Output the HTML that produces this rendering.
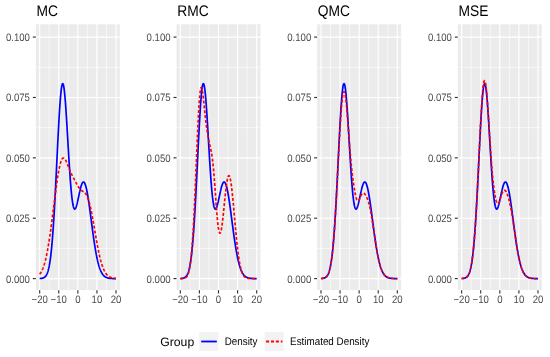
<!DOCTYPE html><html><head><meta charset="utf-8"><style>html,body{margin:0;padding:0;background:#fff;}svg{display:block;will-change:transform;}text{font-family:"Liberation Sans",sans-serif;text-rendering:geometricPrecision;}</style></head><body>
<svg width="550" height="357" viewBox="0 0 550 357">
<g>
<rect width="550" height="357" fill="#fff"/>
<rect x="35.85" y="24.3" width="84.0" height="265.70" fill="#EBEBEB"/>
<line x1="35.85" x2="119.85" y1="248.41" y2="248.41" stroke="#fff" stroke-width="0.6"/>
<line x1="35.85" x2="119.85" y1="188.04" y2="188.04" stroke="#fff" stroke-width="0.6"/>
<line x1="35.85" x2="119.85" y1="127.66" y2="127.66" stroke="#fff" stroke-width="0.6"/>
<line x1="35.85" x2="119.85" y1="67.29" y2="67.29" stroke="#fff" stroke-width="0.6"/>
<line x1="49.21" x2="49.21" y1="24.3" y2="290.0" stroke="#fff" stroke-width="0.6"/>
<line x1="68.30" x2="68.30" y1="24.3" y2="290.0" stroke="#fff" stroke-width="0.6"/>
<line x1="87.40" x2="87.40" y1="24.3" y2="290.0" stroke="#fff" stroke-width="0.6"/>
<line x1="106.49" x2="106.49" y1="24.3" y2="290.0" stroke="#fff" stroke-width="0.6"/>
<line x1="35.85" x2="119.85" y1="278.60" y2="278.60" stroke="#fff" stroke-width="1.15"/>
<line x1="35.85" x2="119.85" y1="218.23" y2="218.23" stroke="#fff" stroke-width="1.15"/>
<line x1="35.85" x2="119.85" y1="157.85" y2="157.85" stroke="#fff" stroke-width="1.15"/>
<line x1="35.85" x2="119.85" y1="97.48" y2="97.48" stroke="#fff" stroke-width="1.15"/>
<line x1="35.85" x2="119.85" y1="37.10" y2="37.10" stroke="#fff" stroke-width="1.15"/>
<line x1="39.67" x2="39.67" y1="24.3" y2="290.0" stroke="#fff" stroke-width="1.15"/>
<line x1="58.76" x2="58.76" y1="24.3" y2="290.0" stroke="#fff" stroke-width="1.15"/>
<line x1="77.85" x2="77.85" y1="24.3" y2="290.0" stroke="#fff" stroke-width="1.15"/>
<line x1="96.94" x2="96.94" y1="24.3" y2="290.0" stroke="#fff" stroke-width="1.15"/>
<line x1="116.03" x2="116.03" y1="24.3" y2="290.0" stroke="#fff" stroke-width="1.15"/>
<path d="M39.67,278.54 L39.76,278.53 L39.86,278.53 L39.95,278.52 L40.05,278.52 L40.15,278.51 L40.24,278.50 L40.34,278.50 L40.43,278.49 L40.53,278.48 L40.62,278.48 L40.72,278.47 L40.81,278.46 L40.91,278.45 L41.00,278.44 L41.10,278.43 L41.20,278.42 L41.29,278.41 L41.39,278.39 L41.48,278.38 L41.58,278.37 L41.67,278.35 L41.77,278.34 L41.86,278.32 L41.96,278.30 L42.05,278.29 L42.15,278.27 L42.25,278.25 L42.34,278.23 L42.44,278.20 L42.53,278.18 L42.63,278.15 L42.72,278.13 L42.82,278.10 L42.91,278.07 L43.01,278.04 L43.10,278.00 L43.20,277.97 L43.30,277.93 L43.39,277.90 L43.49,277.85 L43.58,277.81 L43.68,277.77 L43.77,277.72 L43.87,277.67 L43.96,277.62 L44.06,277.57 L44.15,277.51 L44.25,277.45 L44.35,277.39 L44.44,277.32 L44.54,277.25 L44.63,277.18 L44.73,277.10 L44.82,277.02 L44.92,276.94 L45.01,276.85 L45.11,276.76 L45.20,276.66 L45.30,276.56 L45.40,276.46 L45.49,276.35 L45.59,276.24 L45.68,276.12 L45.78,275.99 L45.87,275.86 L45.97,275.72 L46.06,275.58 L46.16,275.43 L46.25,275.28 L46.35,275.12 L46.45,274.95 L46.54,274.78 L46.64,274.59 L46.73,274.40 L46.83,274.21 L46.92,274.00 L47.02,273.79 L47.11,273.57 L47.21,273.33 L47.30,273.09 L47.40,272.85 L47.50,272.59 L47.59,272.32 L47.69,272.04 L47.78,271.75 L47.88,271.45 L47.97,271.14 L48.07,270.81 L48.16,270.48 L48.26,270.13 L48.35,269.77 L48.45,269.40 L48.55,269.02 L48.64,268.62 L48.74,268.21 L48.83,267.78 L48.93,267.34 L49.02,266.89 L49.12,266.42 L49.21,265.93 L49.31,265.43 L49.40,264.91 L49.50,264.38 L49.60,263.83 L49.69,263.26 L49.79,262.68 L49.88,262.08 L49.98,261.46 L50.07,260.82 L50.17,260.17 L50.26,259.49 L50.36,258.80 L50.45,258.08 L50.55,257.35 L50.65,256.59 L50.74,255.82 L50.84,255.02 L50.93,254.21 L51.03,253.37 L51.12,252.51 L51.22,251.63 L51.31,250.73 L51.41,249.80 L51.50,248.85 L51.60,247.88 L51.70,246.89 L51.79,245.88 L51.89,244.84 L51.98,243.77 L52.08,242.69 L52.17,241.58 L52.27,240.45 L52.36,239.29 L52.46,238.11 L52.55,236.90 L52.65,235.67 L52.75,234.42 L52.84,233.15 L52.94,231.84 L53.03,230.52 L53.13,229.17 L53.22,227.80 L53.32,226.40 L53.41,224.99 L53.51,223.54 L53.60,222.08 L53.70,220.59 L53.80,219.08 L53.89,217.55 L53.99,215.99 L54.08,214.41 L54.18,212.81 L54.27,211.19 L54.37,209.55 L54.46,207.89 L54.56,206.21 L54.65,204.51 L54.75,202.79 L54.85,201.05 L54.94,199.30 L55.04,197.53 L55.13,195.74 L55.23,193.93 L55.32,192.11 L55.42,190.27 L55.51,188.42 L55.61,186.56 L55.70,184.68 L55.80,182.80 L55.90,180.90 L55.99,178.99 L56.09,177.07 L56.18,175.15 L56.28,173.22 L56.37,171.28 L56.47,169.33 L56.56,167.38 L56.66,165.43 L56.75,163.47 L56.85,161.52 L56.95,159.56 L57.04,157.60 L57.14,155.65 L57.23,153.70 L57.33,151.75 L57.42,149.81 L57.52,147.87 L57.61,145.94 L57.71,144.02 L57.80,142.11 L57.90,140.21 L58.00,138.33 L58.09,136.45 L58.19,134.59 L58.28,132.75 L58.38,130.93 L58.47,129.12 L58.57,127.33 L58.66,125.56 L58.76,123.82 L58.85,122.09 L58.95,120.40 L59.05,118.72 L59.14,117.08 L59.24,115.46 L59.33,113.87 L59.43,112.31 L59.52,110.78 L59.62,109.29 L59.71,107.82 L59.81,106.39 L59.90,105.00 L60.00,103.65 L60.10,102.33 L60.19,101.05 L60.29,99.81 L60.38,98.60 L60.48,97.45 L60.57,96.33 L60.67,95.25 L60.76,94.22 L60.86,93.24 L60.95,92.30 L61.05,91.40 L61.15,90.55 L61.24,89.75 L61.34,88.99 L61.43,88.29 L61.53,87.63 L61.62,87.02 L61.72,86.46 L61.81,85.96 L61.91,85.50 L62.00,85.09 L62.10,84.73 L62.20,84.43 L62.29,84.17 L62.39,83.97 L62.48,83.82 L62.58,83.71 L62.67,83.66 L62.77,83.67 L62.86,83.72 L62.96,83.82 L63.05,83.98 L63.15,84.18 L63.25,84.43 L63.34,84.74 L63.44,85.09 L63.53,85.50 L63.63,85.95 L63.72,86.45 L63.82,86.99 L63.91,87.59 L64.01,88.23 L64.10,88.91 L64.20,89.64 L64.30,90.41 L64.39,91.23 L64.49,92.09 L64.58,92.99 L64.68,93.93 L64.77,94.91 L64.87,95.93 L64.96,96.99 L65.06,98.09 L65.15,99.22 L65.25,100.38 L65.35,101.58 L65.44,102.81 L65.54,104.07 L65.63,105.37 L65.73,106.69 L65.82,108.04 L65.92,109.41 L66.01,110.81 L66.11,112.24 L66.20,113.68 L66.30,115.15 L66.40,116.64 L66.49,118.15 L66.59,119.68 L66.68,121.22 L66.78,122.77 L66.87,124.35 L66.97,125.93 L67.06,127.52 L67.16,129.13 L67.25,130.74 L67.35,132.36 L67.45,133.99 L67.54,135.62 L67.64,137.25 L67.73,138.89 L67.83,140.53 L67.92,142.17 L68.02,143.80 L68.11,145.43 L68.21,147.06 L68.30,148.69 L68.40,150.31 L68.50,151.92 L68.59,153.52 L68.69,155.12 L68.78,156.70 L68.88,158.27 L68.97,159.83 L69.07,161.38 L69.16,162.91 L69.26,164.42 L69.35,165.92 L69.45,167.40 L69.55,168.87 L69.64,170.31 L69.74,171.74 L69.83,173.14 L69.93,174.53 L70.02,175.89 L70.12,177.23 L70.21,178.55 L70.31,179.84 L70.40,181.11 L70.50,182.35 L70.60,183.57 L70.69,184.76 L70.79,185.93 L70.88,187.06 L70.98,188.18 L71.07,189.26 L71.17,190.31 L71.26,191.34 L71.36,192.34 L71.45,193.31 L71.55,194.25 L71.65,195.16 L71.74,196.04 L71.84,196.90 L71.93,197.72 L72.03,198.51 L72.12,199.27 L72.22,200.01 L72.31,200.71 L72.41,201.38 L72.50,202.03 L72.60,202.64 L72.70,203.23 L72.79,203.78 L72.89,204.31 L72.98,204.80 L73.08,205.27 L73.17,205.71 L73.27,206.12 L73.36,206.50 L73.46,206.86 L73.55,207.18 L73.65,207.48 L73.75,207.76 L73.84,208.00 L73.94,208.22 L74.03,208.41 L74.13,208.58 L74.22,208.72 L74.32,208.84 L74.41,208.93 L74.51,209.00 L74.60,209.05 L74.70,209.07 L74.80,209.07 L74.89,209.05 L74.99,209.00 L75.08,208.94 L75.18,208.85 L75.27,208.75 L75.37,208.62 L75.46,208.48 L75.56,208.32 L75.65,208.14 L75.75,207.94 L75.85,207.73 L75.94,207.50 L76.04,207.25 L76.13,206.99 L76.23,206.72 L76.32,206.43 L76.42,206.13 L76.51,205.81 L76.61,205.48 L76.70,205.14 L76.80,204.79 L76.90,204.43 L76.99,204.06 L77.09,203.68 L77.18,203.29 L77.28,202.90 L77.37,202.49 L77.47,202.08 L77.56,201.66 L77.66,201.24 L77.75,200.81 L77.85,200.37 L77.95,199.93 L78.04,199.49 L78.14,199.04 L78.23,198.59 L78.33,198.14 L78.42,197.69 L78.52,197.23 L78.61,196.78 L78.71,196.32 L78.80,195.87 L78.90,195.41 L79.00,194.96 L79.09,194.51 L79.19,194.06 L79.28,193.61 L79.38,193.17 L79.47,192.73 L79.57,192.29 L79.66,191.86 L79.76,191.44 L79.85,191.01 L79.95,190.60 L80.05,190.19 L80.14,189.78 L80.24,189.39 L80.33,189.00 L80.43,188.62 L80.52,188.24 L80.62,187.87 L80.71,187.52 L80.81,187.17 L80.90,186.83 L81.00,186.50 L81.10,186.18 L81.19,185.87 L81.29,185.57 L81.38,185.28 L81.48,185.00 L81.57,184.73 L81.67,184.47 L81.76,184.23 L81.86,184.00 L81.95,183.78 L82.05,183.57 L82.15,183.37 L82.24,183.19 L82.34,183.02 L82.43,182.86 L82.53,182.72 L82.62,182.58 L82.72,182.47 L82.81,182.36 L82.91,182.27 L83.00,182.19 L83.10,182.13 L83.20,182.08 L83.29,182.04 L83.39,182.02 L83.48,182.02 L83.58,182.02 L83.67,182.04 L83.77,182.08 L83.86,182.13 L83.96,182.19 L84.05,182.27 L84.15,182.37 L84.25,182.47 L84.34,182.59 L84.44,182.73 L84.53,182.88 L84.63,183.05 L84.72,183.22 L84.82,183.42 L84.91,183.62 L85.01,183.84 L85.10,184.08 L85.20,184.33 L85.30,184.59 L85.39,184.87 L85.49,185.16 L85.58,185.46 L85.68,185.77 L85.77,186.10 L85.87,186.45 L85.96,186.80 L86.06,187.17 L86.15,187.55 L86.25,187.94 L86.35,188.35 L86.44,188.76 L86.54,189.19 L86.63,189.63 L86.73,190.09 L86.82,190.55 L86.92,191.03 L87.01,191.51 L87.11,192.01 L87.20,192.52 L87.30,193.03 L87.40,193.56 L87.49,194.10 L87.59,194.64 L87.68,195.20 L87.78,195.77 L87.87,196.34 L87.97,196.93 L88.06,197.52 L88.16,198.12 L88.25,198.73 L88.35,199.34 L88.45,199.96 L88.54,200.60 L88.64,201.23 L88.73,201.88 L88.83,202.53 L88.92,203.19 L89.02,203.85 L89.11,204.52 L89.21,205.19 L89.30,205.87 L89.40,206.56 L89.50,207.25 L89.59,207.94 L89.69,208.64 L89.78,209.34 L89.88,210.04 L89.97,210.75 L90.07,211.46 L90.16,212.18 L90.26,212.90 L90.35,213.62 L90.45,214.34 L90.55,215.06 L90.64,215.79 L90.74,216.52 L90.83,217.24 L90.93,217.97 L91.02,218.70 L91.12,219.43 L91.21,220.16 L91.31,220.89 L91.40,221.62 L91.50,222.35 L91.60,223.08 L91.69,223.81 L91.79,224.54 L91.88,225.26 L91.98,225.99 L92.07,226.71 L92.17,227.43 L92.26,228.15 L92.36,228.87 L92.45,229.58 L92.55,230.29 L92.65,231.00 L92.74,231.70 L92.84,232.41 L92.93,233.10 L93.03,233.80 L93.12,234.49 L93.22,235.18 L93.31,235.86 L93.41,236.54 L93.50,237.21 L93.60,237.88 L93.70,238.55 L93.79,239.21 L93.89,239.87 L93.98,240.52 L94.08,241.16 L94.17,241.81 L94.27,242.44 L94.36,243.07 L94.46,243.70 L94.55,244.31 L94.65,244.93 L94.75,245.53 L94.84,246.14 L94.94,246.73 L95.03,247.32 L95.13,247.90 L95.22,248.48 L95.32,249.05 L95.41,249.62 L95.51,250.18 L95.60,250.73 L95.70,251.27 L95.80,251.81 L95.89,252.35 L95.99,252.87 L96.08,253.39 L96.18,253.90 L96.27,254.41 L96.37,254.91 L96.46,255.40 L96.56,255.89 L96.65,256.37 L96.75,256.84 L96.85,257.30 L96.94,257.76 L97.04,258.22 L97.13,258.66 L97.23,259.10 L97.32,259.53 L97.42,259.96 L97.51,260.38 L97.61,260.79 L97.70,261.20 L97.80,261.60 L97.90,261.99 L97.99,262.37 L98.09,262.75 L98.18,263.13 L98.28,263.49 L98.37,263.85 L98.47,264.21 L98.56,264.56 L98.66,264.90 L98.75,265.23 L98.85,265.56 L98.95,265.88 L99.04,266.20 L99.14,266.51 L99.23,266.82 L99.33,267.12 L99.42,267.41 L99.52,267.70 L99.61,267.98 L99.71,268.25 L99.80,268.52 L99.90,268.79 L100.00,269.05 L100.09,269.30 L100.19,269.55 L100.28,269.79 L100.38,270.03 L100.47,270.27 L100.57,270.49 L100.66,270.72 L100.76,270.93 L100.85,271.15 L100.95,271.36 L101.05,271.56 L101.14,271.76 L101.24,271.95 L101.33,272.14 L101.43,272.33 L101.52,272.51 L101.62,272.69 L101.71,272.86 L101.81,273.03 L101.90,273.19 L102.00,273.35 L102.10,273.51 L102.19,273.66 L102.29,273.81 L102.38,273.95 L102.48,274.10 L102.57,274.23 L102.67,274.37 L102.76,274.50 L102.86,274.62 L102.95,274.75 L103.05,274.87 L103.15,274.99 L103.24,275.10 L103.34,275.21 L103.43,275.32 L103.53,275.42 L103.62,275.53 L103.72,275.63 L103.81,275.72 L103.91,275.82 L104.00,275.91 L104.10,276.00 L104.20,276.08 L104.29,276.17 L104.39,276.25 L104.48,276.33 L104.58,276.40 L104.67,276.48 L104.77,276.55 L104.86,276.62 L104.96,276.69 L105.05,276.75 L105.15,276.82 L105.25,276.88 L105.34,276.94 L105.44,277.00 L105.53,277.05 L105.63,277.11 L105.72,277.16 L105.82,277.21 L105.91,277.26 L106.01,277.31 L106.10,277.36 L106.20,277.40 L106.30,277.45 L106.39,277.49 L106.49,277.53 L106.58,277.57 L106.68,277.61 L106.77,277.64 L106.87,277.68 L106.96,277.71 L107.06,277.75 L107.15,277.78 L107.25,277.81 L107.35,277.84 L107.44,277.87 L107.54,277.90 L107.63,277.93 L107.73,277.95 L107.82,277.98 L107.92,278.00 L108.01,278.02 L108.11,278.05 L108.20,278.07 L108.30,278.09 L108.40,278.11 L108.49,278.13 L108.59,278.15 L108.68,278.17 L108.78,278.18 L108.87,278.20 L108.97,278.22 L109.06,278.23 L109.16,278.25 L109.25,278.26 L109.35,278.28 L109.45,278.29 L109.54,278.30 L109.64,278.31 L109.73,278.33 L109.83,278.34 L109.92,278.35 L110.02,278.36 L110.11,278.37 L110.21,278.38 L110.30,278.39 L110.40,278.40 L110.50,278.41 L110.59,278.42 L110.69,278.42 L110.78,278.43 L110.88,278.44 L110.97,278.45 L111.07,278.45 L111.16,278.46 L111.26,278.46 L111.35,278.47 L111.45,278.48 L111.55,278.48 L111.64,278.49 L111.74,278.49 L111.83,278.50 L111.93,278.50 L112.02,278.51 L112.12,278.51 L112.21,278.51 L112.31,278.52 L112.40,278.52 L112.50,278.53 L112.60,278.53 L112.69,278.53 L112.79,278.54 L112.88,278.54 L112.98,278.54 L113.07,278.54 L113.17,278.55 L113.26,278.55 L113.36,278.55 L113.45,278.55 L113.55,278.56 L113.65,278.56 L113.74,278.56 L113.84,278.56 L113.93,278.56 L114.03,278.57 L114.12,278.57 L114.22,278.57 L114.31,278.57 L114.41,278.57 L114.50,278.57 L114.60,278.57 L114.70,278.58 L114.79,278.58 L114.89,278.58 L114.98,278.58 L115.08,278.58 L115.17,278.58 L115.27,278.58 L115.36,278.58 L115.46,278.58 L115.55,278.58 L115.65,278.59 L115.75,278.59 L115.84,278.59 L115.94,278.59 L116.03,278.59" fill="none" stroke="#0000FF" stroke-width="1.7" stroke-linejoin="round"/>
<path d="M39.67,274.27 L39.76,274.15 L39.86,274.03 L39.95,273.90 L40.05,273.78 L40.15,273.64 L40.24,273.51 L40.34,273.37 L40.43,273.23 L40.53,273.08 L40.62,272.94 L40.72,272.78 L40.81,272.63 L40.91,272.47 L41.00,272.31 L41.10,272.15 L41.20,271.98 L41.29,271.81 L41.39,271.63 L41.48,271.45 L41.58,271.27 L41.67,271.08 L41.77,270.89 L41.86,270.69 L41.96,270.50 L42.05,270.29 L42.15,270.09 L42.25,269.88 L42.34,269.66 L42.44,269.44 L42.53,269.22 L42.63,268.99 L42.72,268.76 L42.82,268.52 L42.91,268.28 L43.01,268.03 L43.10,267.78 L43.20,267.52 L43.30,267.26 L43.39,267.00 L43.49,266.73 L43.58,266.45 L43.68,266.17 L43.77,265.89 L43.87,265.60 L43.96,265.30 L44.06,265.00 L44.15,264.70 L44.25,264.39 L44.35,264.07 L44.44,263.75 L44.54,263.42 L44.63,263.09 L44.73,262.76 L44.82,262.41 L44.92,262.06 L45.01,261.71 L45.11,261.35 L45.20,260.99 L45.30,260.62 L45.40,260.24 L45.49,259.86 L45.59,259.47 L45.68,259.07 L45.78,258.68 L45.87,258.27 L45.97,257.86 L46.06,257.44 L46.16,257.02 L46.25,256.59 L46.35,256.15 L46.45,255.71 L46.54,255.27 L46.64,254.81 L46.73,254.36 L46.83,253.89 L46.92,253.42 L47.02,252.94 L47.11,252.46 L47.21,251.97 L47.30,251.48 L47.40,250.97 L47.50,250.47 L47.59,249.95 L47.69,249.43 L47.78,248.91 L47.88,248.38 L47.97,247.84 L48.07,247.30 L48.16,246.75 L48.26,246.19 L48.35,245.63 L48.45,245.07 L48.55,244.49 L48.64,243.92 L48.74,243.33 L48.83,242.74 L48.93,242.15 L49.02,241.54 L49.12,240.94 L49.21,240.33 L49.31,239.71 L49.40,239.08 L49.50,238.46 L49.60,237.82 L49.69,237.18 L49.79,236.54 L49.88,235.89 L49.98,235.23 L50.07,234.57 L50.17,233.91 L50.26,233.24 L50.36,232.56 L50.45,231.89 L50.55,231.20 L50.65,230.51 L50.74,229.82 L50.84,229.12 L50.93,228.42 L51.03,227.72 L51.12,227.01 L51.22,226.30 L51.31,225.58 L51.41,224.86 L51.50,224.13 L51.60,223.41 L51.70,222.68 L51.79,221.94 L51.89,221.21 L51.98,220.47 L52.08,219.72 L52.17,218.98 L52.27,218.23 L52.36,217.48 L52.46,216.73 L52.55,215.97 L52.65,215.21 L52.75,214.46 L52.84,213.70 L52.94,212.93 L53.03,212.17 L53.13,211.41 L53.22,210.64 L53.32,209.87 L53.41,209.11 L53.51,208.34 L53.60,207.57 L53.70,206.80 L53.80,206.04 L53.89,205.27 L53.99,204.50 L54.08,203.73 L54.18,202.97 L54.27,202.20 L54.37,201.44 L54.46,200.67 L54.56,199.91 L54.65,199.15 L54.75,198.39 L54.85,197.63 L54.94,196.88 L55.04,196.13 L55.13,195.38 L55.23,194.63 L55.32,193.89 L55.42,193.15 L55.51,192.41 L55.61,191.67 L55.70,190.94 L55.80,190.22 L55.90,189.49 L55.99,188.77 L56.09,188.06 L56.18,187.35 L56.28,186.65 L56.37,185.95 L56.47,185.25 L56.56,184.56 L56.66,183.88 L56.75,183.20 L56.85,182.53 L56.95,181.86 L57.04,181.20 L57.14,180.55 L57.23,179.90 L57.33,179.26 L57.42,178.63 L57.52,178.00 L57.61,177.39 L57.71,176.77 L57.80,176.17 L57.90,175.58 L58.00,174.99 L58.09,174.41 L58.19,173.84 L58.28,173.28 L58.38,172.72 L58.47,172.18 L58.57,171.64 L58.66,171.11 L58.76,170.60 L58.85,170.09 L58.95,169.59 L59.05,169.10 L59.14,168.62 L59.24,168.15 L59.33,167.69 L59.43,167.24 L59.52,166.80 L59.62,166.37 L59.71,165.95 L59.81,165.54 L59.90,165.14 L60.00,164.75 L60.10,164.37 L60.19,164.00 L60.29,163.65 L60.38,163.30 L60.48,162.97 L60.57,162.64 L60.67,162.33 L60.76,162.03 L60.86,161.74 L60.95,161.46 L61.05,161.19 L61.15,160.93 L61.24,160.68 L61.34,160.45 L61.43,160.22 L61.53,160.01 L61.62,159.80 L61.72,159.61 L61.81,159.43 L61.91,159.26 L62.00,159.10 L62.10,158.96 L62.20,158.82 L62.29,158.69 L62.39,158.58 L62.48,158.47 L62.58,158.38 L62.67,158.29 L62.77,158.22 L62.86,158.16 L62.96,158.10 L63.05,158.06 L63.15,158.03 L63.25,158.01 L63.34,157.99 L63.44,157.99 L63.53,157.99 L63.63,158.01 L63.72,158.03 L63.82,158.07 L63.91,158.11 L64.01,158.16 L64.10,158.22 L64.20,158.29 L64.30,158.36 L64.39,158.45 L64.49,158.54 L64.58,158.64 L64.68,158.75 L64.77,158.86 L64.87,158.98 L64.96,159.11 L65.06,159.25 L65.15,159.39 L65.25,159.54 L65.35,159.69 L65.44,159.85 L65.54,160.02 L65.63,160.19 L65.73,160.36 L65.82,160.55 L65.92,160.73 L66.01,160.92 L66.11,161.12 L66.20,161.32 L66.30,161.52 L66.40,161.73 L66.49,161.94 L66.59,162.16 L66.68,162.38 L66.78,162.60 L66.87,162.82 L66.97,163.05 L67.06,163.28 L67.16,163.51 L67.25,163.74 L67.35,163.98 L67.45,164.22 L67.54,164.45 L67.64,164.69 L67.73,164.93 L67.83,165.17 L67.92,165.42 L68.02,165.66 L68.11,165.90 L68.21,166.15 L68.30,166.39 L68.40,166.63 L68.50,166.88 L68.59,167.12 L68.69,167.36 L68.78,167.60 L68.88,167.84 L68.97,168.09 L69.07,168.32 L69.16,168.56 L69.26,168.80 L69.35,169.04 L69.45,169.27 L69.55,169.51 L69.64,169.74 L69.74,169.97 L69.83,170.20 L69.93,170.43 L70.02,170.66 L70.12,170.88 L70.21,171.10 L70.31,171.33 L70.40,171.55 L70.50,171.76 L70.60,171.98 L70.69,172.20 L70.79,172.41 L70.88,172.62 L70.98,172.83 L71.07,173.04 L71.17,173.25 L71.26,173.45 L71.36,173.65 L71.45,173.86 L71.55,174.06 L71.65,174.26 L71.74,174.45 L71.84,174.65 L71.93,174.84 L72.03,175.04 L72.12,175.23 L72.22,175.42 L72.31,175.61 L72.41,175.80 L72.50,175.99 L72.60,176.17 L72.70,176.36 L72.79,176.55 L72.89,176.73 L72.98,176.91 L73.08,177.10 L73.17,177.28 L73.27,177.46 L73.36,177.64 L73.46,177.82 L73.55,178.00 L73.65,178.19 L73.75,178.37 L73.84,178.54 L73.94,178.72 L74.03,178.90 L74.13,179.08 L74.22,179.26 L74.32,179.44 L74.41,179.62 L74.51,179.80 L74.60,179.98 L74.70,180.16 L74.80,180.34 L74.89,180.52 L74.99,180.69 L75.08,180.87 L75.18,181.05 L75.27,181.23 L75.37,181.41 L75.46,181.59 L75.56,181.77 L75.65,181.95 L75.75,182.13 L75.85,182.30 L75.94,182.48 L76.04,182.66 L76.13,182.84 L76.23,183.02 L76.32,183.19 L76.42,183.37 L76.51,183.55 L76.61,183.72 L76.70,183.90 L76.80,184.07 L76.90,184.24 L76.99,184.42 L77.09,184.59 L77.18,184.76 L77.28,184.93 L77.37,185.10 L77.47,185.27 L77.56,185.43 L77.66,185.60 L77.75,185.76 L77.85,185.92 L77.95,186.08 L78.04,186.24 L78.14,186.40 L78.23,186.55 L78.33,186.71 L78.42,186.86 L78.52,187.01 L78.61,187.16 L78.71,187.30 L78.80,187.44 L78.90,187.59 L79.00,187.72 L79.09,187.86 L79.19,187.99 L79.28,188.13 L79.38,188.25 L79.47,188.38 L79.57,188.50 L79.66,188.63 L79.76,188.74 L79.85,188.86 L79.95,188.97 L80.05,189.08 L80.14,189.19 L80.24,189.30 L80.33,189.40 L80.43,189.50 L80.52,189.60 L80.62,189.70 L80.71,189.79 L80.81,189.88 L80.90,189.97 L81.00,190.05 L81.10,190.14 L81.19,190.22 L81.29,190.30 L81.38,190.38 L81.48,190.45 L81.57,190.52 L81.67,190.60 L81.76,190.67 L81.86,190.73 L81.95,190.80 L82.05,190.87 L82.15,190.93 L82.24,190.99 L82.34,191.05 L82.43,191.11 L82.53,191.17 L82.62,191.23 L82.72,191.29 L82.81,191.35 L82.91,191.41 L83.00,191.47 L83.10,191.53 L83.20,191.59 L83.29,191.64 L83.39,191.70 L83.48,191.76 L83.58,191.83 L83.67,191.89 L83.77,191.95 L83.86,192.02 L83.96,192.08 L84.05,192.15 L84.15,192.22 L84.25,192.29 L84.34,192.37 L84.44,192.44 L84.53,192.52 L84.63,192.61 L84.72,192.69 L84.82,192.78 L84.91,192.87 L85.01,192.96 L85.10,193.06 L85.20,193.16 L85.30,193.27 L85.39,193.38 L85.49,193.49 L85.58,193.61 L85.68,193.73 L85.77,193.86 L85.87,193.99 L85.96,194.13 L86.06,194.27 L86.15,194.41 L86.25,194.56 L86.35,194.72 L86.44,194.88 L86.54,195.05 L86.63,195.22 L86.73,195.40 L86.82,195.59 L86.92,195.78 L87.01,195.98 L87.11,196.18 L87.20,196.39 L87.30,196.60 L87.40,196.82 L87.49,197.05 L87.59,197.28 L87.68,197.53 L87.78,197.77 L87.87,198.03 L87.97,198.29 L88.06,198.55 L88.16,198.82 L88.25,199.10 L88.35,199.39 L88.45,199.68 L88.54,199.98 L88.64,200.29 L88.73,200.60 L88.83,200.92 L88.92,201.25 L89.02,201.58 L89.11,201.92 L89.21,202.26 L89.30,202.62 L89.40,202.98 L89.50,203.34 L89.59,203.71 L89.69,204.09 L89.78,204.47 L89.88,204.86 L89.97,205.26 L90.07,205.66 L90.16,206.07 L90.26,206.48 L90.35,206.90 L90.45,207.33 L90.55,207.76 L90.64,208.19 L90.74,208.63 L90.83,209.08 L90.93,209.53 L91.02,209.99 L91.12,210.45 L91.21,210.92 L91.31,211.39 L91.40,211.87 L91.50,212.35 L91.60,212.83 L91.69,213.32 L91.79,213.82 L91.88,214.31 L91.98,214.82 L92.07,215.32 L92.17,215.83 L92.26,216.34 L92.36,216.86 L92.45,217.38 L92.55,217.90 L92.65,218.42 L92.74,218.95 L92.84,219.48 L92.93,220.02 L93.03,220.55 L93.12,221.09 L93.22,221.63 L93.31,222.17 L93.41,222.72 L93.50,223.26 L93.60,223.81 L93.70,224.36 L93.79,224.91 L93.89,225.46 L93.98,226.01 L94.08,226.56 L94.17,227.11 L94.27,227.67 L94.36,228.22 L94.46,228.78 L94.55,229.33 L94.65,229.89 L94.75,230.44 L94.84,230.99 L94.94,231.55 L95.03,232.10 L95.13,232.65 L95.22,233.21 L95.32,233.76 L95.41,234.31 L95.51,234.86 L95.60,235.40 L95.70,235.95 L95.80,236.49 L95.89,237.04 L95.99,237.58 L96.08,238.12 L96.18,238.66 L96.27,239.19 L96.37,239.72 L96.46,240.26 L96.56,240.78 L96.65,241.31 L96.75,241.83 L96.85,242.35 L96.94,242.87 L97.04,243.39 L97.13,243.90 L97.23,244.41 L97.32,244.92 L97.42,245.42 L97.51,245.92 L97.61,246.41 L97.70,246.91 L97.80,247.40 L97.90,247.88 L97.99,248.36 L98.09,248.84 L98.18,249.32 L98.28,249.79 L98.37,250.25 L98.47,250.72 L98.56,251.18 L98.66,251.63 L98.75,252.08 L98.85,252.53 L98.95,252.97 L99.04,253.41 L99.14,253.84 L99.23,254.27 L99.33,254.70 L99.42,255.12 L99.52,255.53 L99.61,255.95 L99.71,256.35 L99.80,256.76 L99.90,257.15 L100.00,257.55 L100.09,257.94 L100.19,258.32 L100.28,258.70 L100.38,259.08 L100.47,259.45 L100.57,259.82 L100.66,260.18 L100.76,260.54 L100.85,260.89 L100.95,261.24 L101.05,261.58 L101.14,261.92 L101.24,262.25 L101.33,262.58 L101.43,262.91 L101.52,263.23 L101.62,263.54 L101.71,263.85 L101.81,264.16 L101.90,264.46 L102.00,264.76 L102.10,265.05 L102.19,265.34 L102.29,265.63 L102.38,265.91 L102.48,266.18 L102.57,266.45 L102.67,266.72 L102.76,266.98 L102.86,267.24 L102.95,267.49 L103.05,267.74 L103.15,267.99 L103.24,268.23 L103.34,268.46 L103.43,268.70 L103.53,268.93 L103.62,269.15 L103.72,269.37 L103.81,269.59 L103.91,269.80 L104.00,270.01 L104.10,270.21 L104.20,270.41 L104.29,270.61 L104.39,270.81 L104.48,270.99 L104.58,271.18 L104.67,271.36 L104.77,271.54 L104.86,271.72 L104.96,271.89 L105.05,272.06 L105.15,272.22 L105.25,272.39 L105.34,272.54 L105.44,272.70 L105.53,272.85 L105.63,273.00 L105.72,273.15 L105.82,273.29 L105.91,273.43 L106.01,273.56 L106.10,273.70 L106.20,273.83 L106.30,273.96 L106.39,274.08 L106.49,274.20 L106.58,274.32 L106.68,274.44 L106.77,274.55 L106.87,274.66 L106.96,274.77 L107.06,274.88 L107.15,274.98 L107.25,275.09 L107.35,275.18 L107.44,275.28 L107.54,275.38 L107.63,275.47 L107.73,275.56 L107.82,275.64 L107.92,275.73 L108.01,275.81 L108.11,275.89 L108.20,275.97 L108.30,276.05 L108.40,276.13 L108.49,276.20 L108.59,276.27 L108.68,276.34 L108.78,276.41 L108.87,276.48 L108.97,276.54 L109.06,276.60 L109.16,276.66 L109.25,276.72 L109.35,276.78 L109.45,276.84 L109.54,276.89 L109.64,276.95 L109.73,277.00 L109.83,277.05 L109.92,277.10 L110.02,277.14 L110.11,277.19 L110.21,277.24 L110.30,277.28 L110.40,277.32 L110.50,277.36 L110.59,277.40 L110.69,277.44 L110.78,277.48 L110.88,277.52 L110.97,277.55 L111.07,277.59 L111.16,277.62 L111.26,277.65 L111.35,277.69 L111.45,277.72 L111.55,277.75 L111.64,277.77 L111.74,277.80 L111.83,277.83 L111.93,277.86 L112.02,277.88 L112.12,277.91 L112.21,277.93 L112.31,277.95 L112.40,277.98 L112.50,278.00 L112.60,278.02 L112.69,278.04 L112.79,278.06 L112.88,278.08 L112.98,278.10 L113.07,278.12 L113.17,278.13 L113.26,278.15 L113.36,278.17 L113.45,278.18 L113.55,278.20 L113.65,278.21 L113.74,278.23 L113.84,278.24 L113.93,278.25 L114.03,278.27 L114.12,278.28 L114.22,278.29 L114.31,278.30 L114.41,278.31 L114.50,278.32 L114.60,278.33 L114.70,278.34 L114.79,278.35 L114.89,278.36 L114.98,278.37 L115.08,278.38 L115.17,278.39 L115.27,278.40 L115.36,278.41 L115.46,278.41 L115.55,278.42 L115.65,278.43 L115.75,278.43 L115.84,278.44 L115.94,278.45 L116.03,278.45" fill="none" stroke="#FF0000" stroke-width="1.7" stroke-dasharray="3 1.9" stroke-linejoin="round"/>
<line x1="32.85" x2="35.85" y1="278.60" y2="278.60" stroke="#333333" stroke-width="1.15"/>
<text transform="matrix(0.8929,0,0,1,29.95,282.50)" font-size="10.75" fill="#4D4D4D" text-anchor="end">0.000</text>
<line x1="32.85" x2="35.85" y1="218.23" y2="218.23" stroke="#333333" stroke-width="1.15"/>
<text transform="matrix(0.8929,0,0,1,29.95,222.13)" font-size="10.75" fill="#4D4D4D" text-anchor="end">0.025</text>
<line x1="32.85" x2="35.85" y1="157.85" y2="157.85" stroke="#333333" stroke-width="1.15"/>
<text transform="matrix(0.8929,0,0,1,29.95,161.75)" font-size="10.75" fill="#4D4D4D" text-anchor="end">0.050</text>
<line x1="32.85" x2="35.85" y1="97.48" y2="97.48" stroke="#333333" stroke-width="1.15"/>
<text transform="matrix(0.8929,0,0,1,29.95,101.38)" font-size="10.75" fill="#4D4D4D" text-anchor="end">0.075</text>
<line x1="32.85" x2="35.85" y1="37.10" y2="37.10" stroke="#333333" stroke-width="1.15"/>
<text transform="matrix(0.8929,0,0,1,29.95,41.00)" font-size="10.75" fill="#4D4D4D" text-anchor="end">0.100</text>
<line x1="39.67" x2="39.67" y1="290.20" y2="293.50" stroke="#333333" stroke-width="1.15"/>
<text transform="matrix(0.8929,0,0,1,39.67,303.35)" font-size="10.75" fill="#4D4D4D" text-anchor="middle">−20</text>
<line x1="58.76" x2="58.76" y1="290.20" y2="293.50" stroke="#333333" stroke-width="1.15"/>
<text transform="matrix(0.8929,0,0,1,58.76,303.35)" font-size="10.75" fill="#4D4D4D" text-anchor="middle">−10</text>
<line x1="77.85" x2="77.85" y1="290.20" y2="293.50" stroke="#333333" stroke-width="1.15"/>
<text transform="matrix(0.8929,0,0,1,77.85,303.35)" font-size="10.75" fill="#4D4D4D" text-anchor="middle">0</text>
<line x1="96.94" x2="96.94" y1="290.20" y2="293.50" stroke="#333333" stroke-width="1.15"/>
<text transform="matrix(0.8929,0,0,1,96.94,303.35)" font-size="10.75" fill="#4D4D4D" text-anchor="middle">10</text>
<line x1="116.03" x2="116.03" y1="290.20" y2="293.50" stroke="#333333" stroke-width="1.15"/>
<text transform="matrix(0.8929,0,0,1,116.03,303.35)" font-size="10.75" fill="#4D4D4D" text-anchor="middle">20</text>
<text transform="matrix(0.9009,0,0,1,36.55,15.60)" font-size="15.32" fill="#000" text-anchor="start">MC</text>
<rect x="176.50" y="24.3" width="84.0" height="265.70" fill="#EBEBEB"/>
<line x1="176.50" x2="260.50" y1="248.41" y2="248.41" stroke="#fff" stroke-width="0.6"/>
<line x1="176.50" x2="260.50" y1="188.04" y2="188.04" stroke="#fff" stroke-width="0.6"/>
<line x1="176.50" x2="260.50" y1="127.66" y2="127.66" stroke="#fff" stroke-width="0.6"/>
<line x1="176.50" x2="260.50" y1="67.29" y2="67.29" stroke="#fff" stroke-width="0.6"/>
<line x1="189.86" x2="189.86" y1="24.3" y2="290.0" stroke="#fff" stroke-width="0.6"/>
<line x1="208.95" x2="208.95" y1="24.3" y2="290.0" stroke="#fff" stroke-width="0.6"/>
<line x1="228.05" x2="228.05" y1="24.3" y2="290.0" stroke="#fff" stroke-width="0.6"/>
<line x1="247.14" x2="247.14" y1="24.3" y2="290.0" stroke="#fff" stroke-width="0.6"/>
<line x1="176.50" x2="260.50" y1="278.60" y2="278.60" stroke="#fff" stroke-width="1.15"/>
<line x1="176.50" x2="260.50" y1="218.23" y2="218.23" stroke="#fff" stroke-width="1.15"/>
<line x1="176.50" x2="260.50" y1="157.85" y2="157.85" stroke="#fff" stroke-width="1.15"/>
<line x1="176.50" x2="260.50" y1="97.48" y2="97.48" stroke="#fff" stroke-width="1.15"/>
<line x1="176.50" x2="260.50" y1="37.10" y2="37.10" stroke="#fff" stroke-width="1.15"/>
<line x1="180.32" x2="180.32" y1="24.3" y2="290.0" stroke="#fff" stroke-width="1.15"/>
<line x1="199.41" x2="199.41" y1="24.3" y2="290.0" stroke="#fff" stroke-width="1.15"/>
<line x1="218.50" x2="218.50" y1="24.3" y2="290.0" stroke="#fff" stroke-width="1.15"/>
<line x1="237.59" x2="237.59" y1="24.3" y2="290.0" stroke="#fff" stroke-width="1.15"/>
<line x1="256.68" x2="256.68" y1="24.3" y2="290.0" stroke="#fff" stroke-width="1.15"/>
<path d="M180.32,278.54 L180.41,278.53 L180.51,278.53 L180.60,278.52 L180.70,278.52 L180.80,278.51 L180.89,278.50 L180.99,278.50 L181.08,278.49 L181.18,278.48 L181.27,278.48 L181.37,278.47 L181.46,278.46 L181.56,278.45 L181.65,278.44 L181.75,278.43 L181.85,278.42 L181.94,278.41 L182.04,278.39 L182.13,278.38 L182.23,278.37 L182.32,278.35 L182.42,278.34 L182.51,278.32 L182.61,278.30 L182.70,278.29 L182.80,278.27 L182.90,278.25 L182.99,278.23 L183.09,278.20 L183.18,278.18 L183.28,278.15 L183.37,278.13 L183.47,278.10 L183.56,278.07 L183.66,278.04 L183.75,278.00 L183.85,277.97 L183.95,277.93 L184.04,277.90 L184.14,277.85 L184.23,277.81 L184.33,277.77 L184.42,277.72 L184.52,277.67 L184.61,277.62 L184.71,277.57 L184.80,277.51 L184.90,277.45 L185.00,277.39 L185.09,277.32 L185.19,277.25 L185.28,277.18 L185.38,277.10 L185.47,277.02 L185.57,276.94 L185.66,276.85 L185.76,276.76 L185.85,276.66 L185.95,276.56 L186.05,276.46 L186.14,276.35 L186.24,276.24 L186.33,276.12 L186.43,275.99 L186.52,275.86 L186.62,275.72 L186.71,275.58 L186.81,275.43 L186.90,275.28 L187.00,275.12 L187.10,274.95 L187.19,274.78 L187.29,274.59 L187.38,274.40 L187.48,274.21 L187.57,274.00 L187.67,273.79 L187.76,273.57 L187.86,273.33 L187.95,273.09 L188.05,272.85 L188.15,272.59 L188.24,272.32 L188.34,272.04 L188.43,271.75 L188.53,271.45 L188.62,271.14 L188.72,270.81 L188.81,270.48 L188.91,270.13 L189.00,269.77 L189.10,269.40 L189.20,269.02 L189.29,268.62 L189.39,268.21 L189.48,267.78 L189.58,267.34 L189.67,266.89 L189.77,266.42 L189.86,265.93 L189.96,265.43 L190.05,264.91 L190.15,264.38 L190.25,263.83 L190.34,263.26 L190.44,262.68 L190.53,262.08 L190.63,261.46 L190.72,260.82 L190.82,260.17 L190.91,259.49 L191.01,258.80 L191.10,258.08 L191.20,257.35 L191.30,256.59 L191.39,255.82 L191.49,255.02 L191.58,254.21 L191.68,253.37 L191.77,252.51 L191.87,251.63 L191.96,250.73 L192.06,249.80 L192.15,248.85 L192.25,247.88 L192.35,246.89 L192.44,245.88 L192.54,244.84 L192.63,243.77 L192.73,242.69 L192.82,241.58 L192.92,240.45 L193.01,239.29 L193.11,238.11 L193.20,236.90 L193.30,235.67 L193.40,234.42 L193.49,233.15 L193.59,231.84 L193.68,230.52 L193.78,229.17 L193.87,227.80 L193.97,226.40 L194.06,224.99 L194.16,223.54 L194.25,222.08 L194.35,220.59 L194.45,219.08 L194.54,217.55 L194.64,215.99 L194.73,214.41 L194.83,212.81 L194.92,211.19 L195.02,209.55 L195.11,207.89 L195.21,206.21 L195.30,204.51 L195.40,202.79 L195.50,201.05 L195.59,199.30 L195.69,197.53 L195.78,195.74 L195.88,193.93 L195.97,192.11 L196.07,190.27 L196.16,188.42 L196.26,186.56 L196.35,184.68 L196.45,182.80 L196.55,180.90 L196.64,178.99 L196.74,177.07 L196.83,175.15 L196.93,173.22 L197.02,171.28 L197.12,169.33 L197.21,167.38 L197.31,165.43 L197.40,163.47 L197.50,161.52 L197.60,159.56 L197.69,157.60 L197.79,155.65 L197.88,153.70 L197.98,151.75 L198.07,149.81 L198.17,147.87 L198.26,145.94 L198.36,144.02 L198.45,142.11 L198.55,140.21 L198.65,138.33 L198.74,136.45 L198.84,134.59 L198.93,132.75 L199.03,130.93 L199.12,129.12 L199.22,127.33 L199.31,125.56 L199.41,123.82 L199.50,122.09 L199.60,120.40 L199.70,118.72 L199.79,117.08 L199.89,115.46 L199.98,113.87 L200.08,112.31 L200.17,110.78 L200.27,109.29 L200.36,107.82 L200.46,106.39 L200.55,105.00 L200.65,103.65 L200.75,102.33 L200.84,101.05 L200.94,99.81 L201.03,98.60 L201.13,97.45 L201.22,96.33 L201.32,95.25 L201.41,94.22 L201.51,93.24 L201.60,92.30 L201.70,91.40 L201.80,90.55 L201.89,89.75 L201.99,88.99 L202.08,88.29 L202.18,87.63 L202.27,87.02 L202.37,86.46 L202.46,85.96 L202.56,85.50 L202.65,85.09 L202.75,84.73 L202.85,84.43 L202.94,84.17 L203.04,83.97 L203.13,83.82 L203.23,83.71 L203.32,83.66 L203.42,83.67 L203.51,83.72 L203.61,83.82 L203.70,83.98 L203.80,84.18 L203.90,84.43 L203.99,84.74 L204.09,85.09 L204.18,85.50 L204.28,85.95 L204.37,86.45 L204.47,86.99 L204.56,87.59 L204.66,88.23 L204.75,88.91 L204.85,89.64 L204.95,90.41 L205.04,91.23 L205.14,92.09 L205.23,92.99 L205.33,93.93 L205.42,94.91 L205.52,95.93 L205.61,96.99 L205.71,98.09 L205.80,99.22 L205.90,100.38 L206.00,101.58 L206.09,102.81 L206.19,104.07 L206.28,105.37 L206.38,106.69 L206.47,108.04 L206.57,109.41 L206.66,110.81 L206.76,112.24 L206.85,113.68 L206.95,115.15 L207.05,116.64 L207.14,118.15 L207.24,119.68 L207.33,121.22 L207.43,122.77 L207.52,124.35 L207.62,125.93 L207.71,127.52 L207.81,129.13 L207.90,130.74 L208.00,132.36 L208.10,133.99 L208.19,135.62 L208.29,137.25 L208.38,138.89 L208.48,140.53 L208.57,142.17 L208.67,143.80 L208.76,145.43 L208.86,147.06 L208.95,148.69 L209.05,150.31 L209.15,151.92 L209.24,153.52 L209.34,155.12 L209.43,156.70 L209.53,158.27 L209.62,159.83 L209.72,161.38 L209.81,162.91 L209.91,164.42 L210.00,165.92 L210.10,167.40 L210.20,168.87 L210.29,170.31 L210.39,171.74 L210.48,173.14 L210.58,174.53 L210.67,175.89 L210.77,177.23 L210.86,178.55 L210.96,179.84 L211.05,181.11 L211.15,182.35 L211.25,183.57 L211.34,184.76 L211.44,185.93 L211.53,187.06 L211.63,188.18 L211.72,189.26 L211.82,190.31 L211.91,191.34 L212.01,192.34 L212.10,193.31 L212.20,194.25 L212.30,195.16 L212.39,196.04 L212.49,196.90 L212.58,197.72 L212.68,198.51 L212.77,199.27 L212.87,200.01 L212.96,200.71 L213.06,201.38 L213.15,202.03 L213.25,202.64 L213.35,203.23 L213.44,203.78 L213.54,204.31 L213.63,204.80 L213.73,205.27 L213.82,205.71 L213.92,206.12 L214.01,206.50 L214.11,206.86 L214.20,207.18 L214.30,207.48 L214.40,207.76 L214.49,208.00 L214.59,208.22 L214.68,208.41 L214.78,208.58 L214.87,208.72 L214.97,208.84 L215.06,208.93 L215.16,209.00 L215.25,209.05 L215.35,209.07 L215.45,209.07 L215.54,209.05 L215.64,209.00 L215.73,208.94 L215.83,208.85 L215.92,208.75 L216.02,208.62 L216.11,208.48 L216.21,208.32 L216.30,208.14 L216.40,207.94 L216.50,207.73 L216.59,207.50 L216.69,207.25 L216.78,206.99 L216.88,206.72 L216.97,206.43 L217.07,206.13 L217.16,205.81 L217.26,205.48 L217.35,205.14 L217.45,204.79 L217.55,204.43 L217.64,204.06 L217.74,203.68 L217.83,203.29 L217.93,202.90 L218.02,202.49 L218.12,202.08 L218.21,201.66 L218.31,201.24 L218.40,200.81 L218.50,200.37 L218.60,199.93 L218.69,199.49 L218.79,199.04 L218.88,198.59 L218.98,198.14 L219.07,197.69 L219.17,197.23 L219.26,196.78 L219.36,196.32 L219.45,195.87 L219.55,195.41 L219.65,194.96 L219.74,194.51 L219.84,194.06 L219.93,193.61 L220.03,193.17 L220.12,192.73 L220.22,192.29 L220.31,191.86 L220.41,191.44 L220.50,191.01 L220.60,190.60 L220.70,190.19 L220.79,189.78 L220.89,189.39 L220.98,189.00 L221.08,188.62 L221.17,188.24 L221.27,187.87 L221.36,187.52 L221.46,187.17 L221.55,186.83 L221.65,186.50 L221.75,186.18 L221.84,185.87 L221.94,185.57 L222.03,185.28 L222.13,185.00 L222.22,184.73 L222.32,184.47 L222.41,184.23 L222.51,184.00 L222.60,183.78 L222.70,183.57 L222.80,183.37 L222.89,183.19 L222.99,183.02 L223.08,182.86 L223.18,182.72 L223.27,182.58 L223.37,182.47 L223.46,182.36 L223.56,182.27 L223.65,182.19 L223.75,182.13 L223.85,182.08 L223.94,182.04 L224.04,182.02 L224.13,182.02 L224.23,182.02 L224.32,182.04 L224.42,182.08 L224.51,182.13 L224.61,182.19 L224.70,182.27 L224.80,182.37 L224.90,182.47 L224.99,182.59 L225.09,182.73 L225.18,182.88 L225.28,183.05 L225.37,183.22 L225.47,183.42 L225.56,183.62 L225.66,183.84 L225.75,184.08 L225.85,184.33 L225.95,184.59 L226.04,184.87 L226.14,185.16 L226.23,185.46 L226.33,185.77 L226.42,186.10 L226.52,186.45 L226.61,186.80 L226.71,187.17 L226.80,187.55 L226.90,187.94 L227.00,188.35 L227.09,188.76 L227.19,189.19 L227.28,189.63 L227.38,190.09 L227.47,190.55 L227.57,191.03 L227.66,191.51 L227.76,192.01 L227.85,192.52 L227.95,193.03 L228.05,193.56 L228.14,194.10 L228.24,194.64 L228.33,195.20 L228.43,195.77 L228.52,196.34 L228.62,196.93 L228.71,197.52 L228.81,198.12 L228.90,198.73 L229.00,199.34 L229.10,199.96 L229.19,200.60 L229.29,201.23 L229.38,201.88 L229.48,202.53 L229.57,203.19 L229.67,203.85 L229.76,204.52 L229.86,205.19 L229.95,205.87 L230.05,206.56 L230.15,207.25 L230.24,207.94 L230.34,208.64 L230.43,209.34 L230.53,210.04 L230.62,210.75 L230.72,211.46 L230.81,212.18 L230.91,212.90 L231.00,213.62 L231.10,214.34 L231.20,215.06 L231.29,215.79 L231.39,216.52 L231.48,217.24 L231.58,217.97 L231.67,218.70 L231.77,219.43 L231.86,220.16 L231.96,220.89 L232.05,221.62 L232.15,222.35 L232.25,223.08 L232.34,223.81 L232.44,224.54 L232.53,225.26 L232.63,225.99 L232.72,226.71 L232.82,227.43 L232.91,228.15 L233.01,228.87 L233.10,229.58 L233.20,230.29 L233.30,231.00 L233.39,231.70 L233.49,232.41 L233.58,233.10 L233.68,233.80 L233.77,234.49 L233.87,235.18 L233.96,235.86 L234.06,236.54 L234.15,237.21 L234.25,237.88 L234.35,238.55 L234.44,239.21 L234.54,239.87 L234.63,240.52 L234.73,241.16 L234.82,241.81 L234.92,242.44 L235.01,243.07 L235.11,243.70 L235.20,244.31 L235.30,244.93 L235.40,245.53 L235.49,246.14 L235.59,246.73 L235.68,247.32 L235.78,247.90 L235.87,248.48 L235.97,249.05 L236.06,249.62 L236.16,250.18 L236.25,250.73 L236.35,251.27 L236.45,251.81 L236.54,252.35 L236.64,252.87 L236.73,253.39 L236.83,253.90 L236.92,254.41 L237.02,254.91 L237.11,255.40 L237.21,255.89 L237.30,256.37 L237.40,256.84 L237.50,257.30 L237.59,257.76 L237.69,258.22 L237.78,258.66 L237.88,259.10 L237.97,259.53 L238.07,259.96 L238.16,260.38 L238.26,260.79 L238.35,261.20 L238.45,261.60 L238.55,261.99 L238.64,262.37 L238.74,262.75 L238.83,263.13 L238.93,263.49 L239.02,263.85 L239.12,264.21 L239.21,264.56 L239.31,264.90 L239.40,265.23 L239.50,265.56 L239.60,265.88 L239.69,266.20 L239.79,266.51 L239.88,266.82 L239.98,267.12 L240.07,267.41 L240.17,267.70 L240.26,267.98 L240.36,268.25 L240.45,268.52 L240.55,268.79 L240.65,269.05 L240.74,269.30 L240.84,269.55 L240.93,269.79 L241.03,270.03 L241.12,270.27 L241.22,270.49 L241.31,270.72 L241.41,270.93 L241.50,271.15 L241.60,271.36 L241.70,271.56 L241.79,271.76 L241.89,271.95 L241.98,272.14 L242.08,272.33 L242.17,272.51 L242.27,272.69 L242.36,272.86 L242.46,273.03 L242.55,273.19 L242.65,273.35 L242.75,273.51 L242.84,273.66 L242.94,273.81 L243.03,273.95 L243.13,274.10 L243.22,274.23 L243.32,274.37 L243.41,274.50 L243.51,274.62 L243.60,274.75 L243.70,274.87 L243.80,274.99 L243.89,275.10 L243.99,275.21 L244.08,275.32 L244.18,275.42 L244.27,275.53 L244.37,275.63 L244.46,275.72 L244.56,275.82 L244.65,275.91 L244.75,276.00 L244.85,276.08 L244.94,276.17 L245.04,276.25 L245.13,276.33 L245.23,276.40 L245.32,276.48 L245.42,276.55 L245.51,276.62 L245.61,276.69 L245.70,276.75 L245.80,276.82 L245.90,276.88 L245.99,276.94 L246.09,277.00 L246.18,277.05 L246.28,277.11 L246.37,277.16 L246.47,277.21 L246.56,277.26 L246.66,277.31 L246.75,277.36 L246.85,277.40 L246.95,277.45 L247.04,277.49 L247.14,277.53 L247.23,277.57 L247.33,277.61 L247.42,277.64 L247.52,277.68 L247.61,277.71 L247.71,277.75 L247.80,277.78 L247.90,277.81 L248.00,277.84 L248.09,277.87 L248.19,277.90 L248.28,277.93 L248.38,277.95 L248.47,277.98 L248.57,278.00 L248.66,278.02 L248.76,278.05 L248.85,278.07 L248.95,278.09 L249.05,278.11 L249.14,278.13 L249.24,278.15 L249.33,278.17 L249.43,278.18 L249.52,278.20 L249.62,278.22 L249.71,278.23 L249.81,278.25 L249.90,278.26 L250.00,278.28 L250.10,278.29 L250.19,278.30 L250.29,278.31 L250.38,278.33 L250.48,278.34 L250.57,278.35 L250.67,278.36 L250.76,278.37 L250.86,278.38 L250.95,278.39 L251.05,278.40 L251.15,278.41 L251.24,278.42 L251.34,278.42 L251.43,278.43 L251.53,278.44 L251.62,278.45 L251.72,278.45 L251.81,278.46 L251.91,278.46 L252.00,278.47 L252.10,278.48 L252.20,278.48 L252.29,278.49 L252.39,278.49 L252.48,278.50 L252.58,278.50 L252.67,278.51 L252.77,278.51 L252.86,278.51 L252.96,278.52 L253.05,278.52 L253.15,278.53 L253.25,278.53 L253.34,278.53 L253.44,278.54 L253.53,278.54 L253.63,278.54 L253.72,278.54 L253.82,278.55 L253.91,278.55 L254.01,278.55 L254.10,278.55 L254.20,278.56 L254.30,278.56 L254.39,278.56 L254.49,278.56 L254.58,278.56 L254.68,278.57 L254.77,278.57 L254.87,278.57 L254.96,278.57 L255.06,278.57 L255.15,278.57 L255.25,278.57 L255.35,278.58 L255.44,278.58 L255.54,278.58 L255.63,278.58 L255.73,278.58 L255.82,278.58 L255.92,278.58 L256.01,278.58 L256.11,278.58 L256.20,278.58 L256.30,278.59 L256.40,278.59 L256.49,278.59 L256.59,278.59 L256.68,278.59" fill="none" stroke="#0000FF" stroke-width="1.7" stroke-linejoin="round"/>
<path d="M180.32,278.59 L180.41,278.59 L180.51,278.58 L180.60,278.58 L180.70,278.58 L180.80,278.58 L180.89,278.58 L180.99,278.58 L181.08,278.57 L181.18,278.57 L181.27,278.57 L181.37,278.57 L181.46,278.56 L181.56,278.56 L181.65,278.56 L181.75,278.55 L181.85,278.55 L181.94,278.54 L182.04,278.54 L182.13,278.53 L182.23,278.53 L182.32,278.52 L182.42,278.52 L182.51,278.51 L182.61,278.50 L182.70,278.50 L182.80,278.49 L182.90,278.48 L182.99,278.47 L183.09,278.46 L183.18,278.45 L183.28,278.43 L183.37,278.42 L183.47,278.41 L183.56,278.39 L183.66,278.38 L183.75,278.36 L183.85,278.34 L183.95,278.32 L184.04,278.30 L184.14,278.28 L184.23,278.25 L184.33,278.23 L184.42,278.20 L184.52,278.17 L184.61,278.14 L184.71,278.10 L184.80,278.07 L184.90,278.03 L185.00,277.99 L185.09,277.95 L185.19,277.90 L185.28,277.85 L185.38,277.80 L185.47,277.74 L185.57,277.69 L185.66,277.62 L185.76,277.56 L185.85,277.49 L185.95,277.41 L186.05,277.33 L186.14,277.25 L186.24,277.16 L186.33,277.07 L186.43,276.97 L186.52,276.87 L186.62,276.75 L186.71,276.64 L186.81,276.51 L186.90,276.38 L187.00,276.25 L187.10,276.10 L187.19,275.95 L187.29,275.79 L187.38,275.62 L187.48,275.44 L187.57,275.25 L187.67,275.06 L187.76,274.85 L187.86,274.63 L187.95,274.40 L188.05,274.16 L188.15,273.91 L188.24,273.65 L188.34,273.37 L188.43,273.08 L188.53,272.78 L188.62,272.46 L188.72,272.13 L188.81,271.78 L188.91,271.42 L189.00,271.04 L189.10,270.64 L189.20,270.23 L189.29,269.79 L189.39,269.34 L189.48,268.87 L189.58,268.38 L189.67,267.88 L189.77,267.35 L189.86,266.79 L189.96,266.22 L190.05,265.63 L190.15,265.01 L190.25,264.36 L190.34,263.70 L190.44,263.01 L190.53,262.29 L190.63,261.55 L190.72,260.78 L190.82,259.98 L190.91,259.16 L191.01,258.30 L191.10,257.42 L191.20,256.51 L191.30,255.57 L191.39,254.60 L191.49,253.60 L191.58,252.57 L191.68,251.51 L191.77,250.41 L191.87,249.29 L191.96,248.13 L192.06,246.93 L192.15,245.71 L192.25,244.45 L192.35,243.16 L192.44,241.83 L192.54,240.47 L192.63,239.07 L192.73,237.65 L192.82,236.18 L192.92,234.68 L193.01,233.15 L193.11,231.59 L193.20,229.99 L193.30,228.35 L193.40,226.68 L193.49,224.98 L193.59,223.25 L193.68,221.48 L193.78,219.68 L193.87,217.85 L193.97,215.99 L194.06,214.10 L194.16,212.18 L194.25,210.22 L194.35,208.24 L194.45,206.23 L194.54,204.20 L194.64,202.14 L194.73,200.05 L194.83,197.94 L194.92,195.81 L195.02,193.66 L195.11,191.48 L195.21,189.29 L195.30,187.07 L195.40,184.85 L195.50,182.60 L195.59,180.35 L195.69,178.08 L195.78,175.80 L195.88,173.51 L195.97,171.22 L196.07,168.92 L196.16,166.61 L196.26,164.31 L196.35,162.00 L196.45,159.70 L196.55,157.40 L196.64,155.10 L196.74,152.81 L196.83,150.54 L196.93,148.27 L197.02,146.02 L197.12,143.78 L197.21,141.57 L197.31,139.37 L197.40,137.19 L197.50,135.04 L197.60,132.91 L197.69,130.81 L197.79,128.75 L197.88,126.71 L197.98,124.71 L198.07,122.74 L198.17,120.81 L198.26,118.92 L198.36,117.08 L198.45,115.27 L198.55,113.51 L198.65,111.80 L198.74,110.14 L198.84,108.53 L198.93,106.97 L199.03,105.46 L199.12,104.00 L199.22,102.61 L199.31,101.27 L199.41,99.98 L199.50,98.76 L199.60,97.60 L199.70,96.50 L199.79,95.46 L199.89,94.48 L199.98,93.57 L200.08,92.71 L200.17,91.93 L200.27,91.20 L200.36,90.55 L200.46,89.95 L200.55,89.42 L200.65,88.96 L200.75,88.56 L200.84,88.22 L200.94,87.94 L201.03,87.73 L201.13,87.57 L201.22,87.48 L201.32,87.45 L201.41,87.47 L201.51,87.56 L201.60,87.69 L201.70,87.89 L201.80,88.13 L201.89,88.43 L201.99,88.77 L202.08,89.17 L202.18,89.61 L202.27,90.09 L202.37,90.62 L202.46,91.19 L202.56,91.79 L202.65,92.43 L202.75,93.11 L202.85,93.81 L202.94,94.55 L203.04,95.31 L203.13,96.10 L203.23,96.91 L203.32,97.75 L203.42,98.60 L203.51,99.47 L203.61,100.35 L203.70,101.25 L203.80,102.15 L203.90,103.07 L203.99,103.99 L204.09,104.92 L204.18,105.85 L204.28,106.79 L204.37,107.72 L204.47,108.65 L204.56,109.58 L204.66,110.51 L204.75,111.43 L204.85,112.34 L204.95,113.25 L205.04,114.15 L205.14,115.04 L205.23,115.92 L205.33,116.79 L205.42,117.64 L205.52,118.49 L205.61,119.32 L205.71,120.15 L205.80,120.96 L205.90,121.75 L206.00,122.54 L206.09,123.31 L206.19,124.07 L206.28,124.81 L206.38,125.54 L206.47,126.26 L206.57,126.96 L206.66,127.66 L206.76,128.34 L206.85,129.01 L206.95,129.66 L207.05,130.30 L207.14,130.94 L207.24,131.56 L207.33,132.17 L207.43,132.76 L207.52,133.35 L207.62,133.93 L207.71,134.49 L207.81,135.05 L207.90,135.60 L208.00,136.13 L208.10,136.66 L208.19,137.18 L208.29,137.69 L208.38,138.19 L208.48,138.68 L208.57,139.16 L208.67,139.64 L208.76,140.11 L208.86,140.57 L208.95,141.02 L209.05,141.47 L209.15,141.91 L209.24,142.35 L209.34,142.78 L209.43,143.21 L209.53,143.63 L209.62,144.05 L209.72,144.47 L209.81,144.89 L209.91,145.30 L210.00,145.72 L210.10,146.13 L210.20,146.55 L210.29,146.97 L210.39,147.39 L210.48,147.82 L210.58,148.25 L210.67,148.69 L210.77,149.14 L210.86,149.60 L210.96,150.06 L211.05,150.54 L211.15,151.03 L211.25,151.53 L211.34,152.04 L211.44,152.57 L211.53,153.12 L211.63,153.68 L211.72,154.26 L211.82,154.86 L211.91,155.48 L212.01,156.12 L212.10,156.79 L212.20,157.47 L212.30,158.18 L212.39,158.91 L212.49,159.67 L212.58,160.45 L212.68,161.26 L212.77,162.09 L212.87,162.95 L212.96,163.83 L213.06,164.74 L213.15,165.68 L213.25,166.64 L213.35,167.63 L213.44,168.64 L213.54,169.68 L213.63,170.74 L213.73,171.82 L213.82,172.93 L213.92,174.06 L214.01,175.21 L214.11,176.38 L214.20,177.57 L214.30,178.78 L214.40,180.01 L214.49,181.25 L214.59,182.51 L214.68,183.78 L214.78,185.06 L214.87,186.36 L214.97,187.66 L215.06,188.97 L215.16,190.29 L215.25,191.62 L215.35,192.94 L215.45,194.27 L215.54,195.60 L215.64,196.93 L215.73,198.25 L215.83,199.57 L215.92,200.88 L216.02,202.18 L216.11,203.48 L216.21,204.76 L216.30,206.03 L216.40,207.29 L216.50,208.53 L216.59,209.75 L216.69,210.95 L216.78,212.14 L216.88,213.30 L216.97,214.44 L217.07,215.55 L217.16,216.64 L217.26,217.70 L217.35,218.73 L217.45,219.73 L217.55,220.71 L217.64,221.65 L217.74,222.56 L217.83,223.44 L217.93,224.28 L218.02,225.09 L218.12,225.86 L218.21,226.59 L218.31,227.29 L218.40,227.95 L218.50,228.58 L218.60,229.16 L218.69,229.71 L218.79,230.22 L218.88,230.68 L218.98,231.11 L219.07,231.50 L219.17,231.85 L219.26,232.16 L219.36,232.43 L219.45,232.66 L219.55,232.85 L219.65,233.00 L219.74,233.11 L219.84,233.18 L219.93,233.21 L220.03,233.20 L220.12,233.16 L220.22,233.08 L220.31,232.96 L220.41,232.80 L220.50,232.61 L220.60,232.38 L220.70,232.12 L220.79,231.82 L220.89,231.49 L220.98,231.13 L221.08,230.73 L221.17,230.30 L221.27,229.84 L221.36,229.35 L221.46,228.83 L221.55,228.29 L221.65,227.71 L221.75,227.11 L221.84,226.48 L221.94,225.83 L222.03,225.15 L222.13,224.45 L222.22,223.73 L222.32,222.99 L222.41,222.22 L222.51,221.44 L222.60,220.64 L222.70,219.82 L222.80,218.99 L222.89,218.14 L222.99,217.27 L223.08,216.39 L223.18,215.51 L223.27,214.60 L223.37,213.69 L223.46,212.77 L223.56,211.85 L223.65,210.91 L223.75,209.97 L223.85,209.03 L223.94,208.08 L224.04,207.13 L224.13,206.17 L224.23,205.22 L224.32,204.26 L224.42,203.31 L224.51,202.36 L224.61,201.41 L224.70,200.47 L224.80,199.53 L224.90,198.60 L224.99,197.67 L225.09,196.75 L225.18,195.85 L225.28,194.95 L225.37,194.06 L225.47,193.19 L225.56,192.33 L225.66,191.48 L225.75,190.64 L225.85,189.82 L225.95,189.02 L226.04,188.23 L226.14,187.47 L226.23,186.72 L226.33,185.98 L226.42,185.27 L226.52,184.58 L226.61,183.92 L226.71,183.27 L226.80,182.65 L226.90,182.05 L227.00,181.47 L227.09,180.92 L227.19,180.39 L227.28,179.89 L227.38,179.41 L227.47,178.96 L227.57,178.54 L227.66,178.15 L227.76,177.78 L227.85,177.45 L227.95,177.14 L228.05,176.86 L228.14,176.61 L228.24,176.38 L228.33,176.19 L228.43,176.03 L228.52,175.90 L228.62,175.80 L228.71,175.73 L228.81,175.68 L228.90,175.67 L229.00,175.69 L229.10,175.75 L229.19,175.83 L229.29,175.94 L229.38,176.08 L229.48,176.25 L229.57,176.46 L229.67,176.69 L229.76,176.95 L229.86,177.24 L229.95,177.56 L230.05,177.91 L230.15,178.29 L230.24,178.70 L230.34,179.14 L230.43,179.60 L230.53,180.09 L230.62,180.61 L230.72,181.15 L230.81,181.72 L230.91,182.31 L231.00,182.93 L231.10,183.58 L231.20,184.25 L231.29,184.94 L231.39,185.65 L231.48,186.39 L231.58,187.14 L231.67,187.92 L231.77,188.72 L231.86,189.54 L231.96,190.38 L232.05,191.23 L232.15,192.11 L232.25,193.00 L232.34,193.90 L232.44,194.82 L232.53,195.76 L232.63,196.71 L232.72,197.67 L232.82,198.65 L232.91,199.64 L233.01,200.64 L233.10,201.65 L233.20,202.67 L233.30,203.70 L233.39,204.73 L233.49,205.78 L233.58,206.83 L233.68,207.88 L233.77,208.94 L233.87,210.01 L233.96,211.08 L234.06,212.15 L234.15,213.23 L234.25,214.31 L234.35,215.39 L234.44,216.46 L234.54,217.54 L234.63,218.62 L234.73,219.70 L234.82,220.77 L234.92,221.85 L235.01,222.92 L235.11,223.98 L235.20,225.04 L235.30,226.10 L235.40,227.15 L235.49,228.19 L235.59,229.23 L235.68,230.26 L235.78,231.29 L235.87,232.30 L235.97,233.31 L236.06,234.31 L236.16,235.30 L236.25,236.28 L236.35,237.25 L236.45,238.21 L236.54,239.16 L236.64,240.10 L236.73,241.03 L236.83,241.94 L236.92,242.85 L237.02,243.74 L237.11,244.62 L237.21,245.49 L237.30,246.35 L237.40,247.19 L237.50,248.02 L237.59,248.84 L237.69,249.64 L237.78,250.43 L237.88,251.21 L237.97,251.97 L238.07,252.72 L238.16,253.46 L238.26,254.18 L238.35,254.89 L238.45,255.59 L238.55,256.27 L238.64,256.94 L238.74,257.59 L238.83,258.23 L238.93,258.86 L239.02,259.47 L239.12,260.07 L239.21,260.66 L239.31,261.23 L239.40,261.79 L239.50,262.34 L239.60,262.87 L239.69,263.39 L239.79,263.90 L239.88,264.40 L239.98,264.88 L240.07,265.35 L240.17,265.81 L240.26,266.25 L240.36,266.69 L240.45,267.11 L240.55,267.52 L240.65,267.92 L240.74,268.31 L240.84,268.68 L240.93,269.05 L241.03,269.40 L241.12,269.75 L241.22,270.08 L241.31,270.40 L241.41,270.72 L241.50,271.02 L241.60,271.32 L241.70,271.60 L241.79,271.88 L241.89,272.15 L241.98,272.40 L242.08,272.65 L242.17,272.90 L242.27,273.13 L242.36,273.35 L242.46,273.57 L242.55,273.78 L242.65,273.98 L242.75,274.18 L242.84,274.37 L242.94,274.55 L243.03,274.72 L243.13,274.89 L243.22,275.05 L243.32,275.21 L243.41,275.36 L243.51,275.51 L243.60,275.64 L243.70,275.78 L243.80,275.91 L243.89,276.03 L243.99,276.15 L244.08,276.26 L244.18,276.37 L244.27,276.47 L244.37,276.58 L244.46,276.67 L244.56,276.76 L244.65,276.85 L244.75,276.94 L244.85,277.02 L244.94,277.09 L245.04,277.17 L245.13,277.24 L245.23,277.31 L245.32,277.37 L245.42,277.43 L245.51,277.49 L245.61,277.55 L245.70,277.60 L245.80,277.65 L245.90,277.70 L245.99,277.75 L246.09,277.79 L246.18,277.84 L246.28,277.88 L246.37,277.91 L246.47,277.95 L246.56,277.99 L246.66,278.02 L246.75,278.05 L246.85,278.08 L246.95,278.11 L247.04,278.14 L247.14,278.16 L247.23,278.19 L247.33,278.21 L247.42,278.23 L247.52,278.25 L247.61,278.27 L247.71,278.29 L247.80,278.31 L247.90,278.33 L248.00,278.34 L248.09,278.36 L248.19,278.37 L248.28,278.38 L248.38,278.40 L248.47,278.41 L248.57,278.42 L248.66,278.43 L248.76,278.44 L248.85,278.45 L248.95,278.46 L249.05,278.47 L249.14,278.48 L249.24,278.48 L249.33,278.49 L249.43,278.50 L249.52,278.50 L249.62,278.51 L249.71,278.52 L249.81,278.52 L249.90,278.53 L250.00,278.53 L250.10,278.54 L250.19,278.54 L250.29,278.54 L250.38,278.55 L250.48,278.55 L250.57,278.55 L250.67,278.56 L250.76,278.56 L250.86,278.56 L250.95,278.56 L251.05,278.57 L251.15,278.57 L251.24,278.57 L251.34,278.57 L251.43,278.58 L251.53,278.58 L251.62,278.58 L251.72,278.58 L251.81,278.58 L251.91,278.58 L252.00,278.58 L252.10,278.59 L252.20,278.59 L252.29,278.59 L252.39,278.59 L252.48,278.59 L252.58,278.59 L252.67,278.59 L252.77,278.59 L252.86,278.59 L252.96,278.59 L253.05,278.59 L253.15,278.59 L253.25,278.59 L253.34,278.59 L253.44,278.59 L253.53,278.60 L253.63,278.60 L253.72,278.60 L253.82,278.60 L253.91,278.60 L254.01,278.60 L254.10,278.60 L254.20,278.60 L254.30,278.60 L254.39,278.60 L254.49,278.60 L254.58,278.60 L254.68,278.60 L254.77,278.60 L254.87,278.60 L254.96,278.60 L255.06,278.60 L255.15,278.60 L255.25,278.60 L255.35,278.60 L255.44,278.60 L255.54,278.60 L255.63,278.60 L255.73,278.60 L255.82,278.60 L255.92,278.60 L256.01,278.60 L256.11,278.60 L256.20,278.60 L256.30,278.60 L256.40,278.60 L256.49,278.60 L256.59,278.60 L256.68,278.60" fill="none" stroke="#FF0000" stroke-width="1.7" stroke-dasharray="3 1.9" stroke-linejoin="round"/>
<line x1="173.50" x2="176.50" y1="278.60" y2="278.60" stroke="#333333" stroke-width="1.15"/>
<text transform="matrix(0.8929,0,0,1,170.60,282.50)" font-size="10.75" fill="#4D4D4D" text-anchor="end">0.000</text>
<line x1="173.50" x2="176.50" y1="218.23" y2="218.23" stroke="#333333" stroke-width="1.15"/>
<text transform="matrix(0.8929,0,0,1,170.60,222.13)" font-size="10.75" fill="#4D4D4D" text-anchor="end">0.025</text>
<line x1="173.50" x2="176.50" y1="157.85" y2="157.85" stroke="#333333" stroke-width="1.15"/>
<text transform="matrix(0.8929,0,0,1,170.60,161.75)" font-size="10.75" fill="#4D4D4D" text-anchor="end">0.050</text>
<line x1="173.50" x2="176.50" y1="97.48" y2="97.48" stroke="#333333" stroke-width="1.15"/>
<text transform="matrix(0.8929,0,0,1,170.60,101.38)" font-size="10.75" fill="#4D4D4D" text-anchor="end">0.075</text>
<line x1="173.50" x2="176.50" y1="37.10" y2="37.10" stroke="#333333" stroke-width="1.15"/>
<text transform="matrix(0.8929,0,0,1,170.60,41.00)" font-size="10.75" fill="#4D4D4D" text-anchor="end">0.100</text>
<line x1="180.32" x2="180.32" y1="290.20" y2="293.50" stroke="#333333" stroke-width="1.15"/>
<text transform="matrix(0.8929,0,0,1,180.32,303.35)" font-size="10.75" fill="#4D4D4D" text-anchor="middle">−20</text>
<line x1="199.41" x2="199.41" y1="290.20" y2="293.50" stroke="#333333" stroke-width="1.15"/>
<text transform="matrix(0.8929,0,0,1,199.41,303.35)" font-size="10.75" fill="#4D4D4D" text-anchor="middle">−10</text>
<line x1="218.50" x2="218.50" y1="290.20" y2="293.50" stroke="#333333" stroke-width="1.15"/>
<text transform="matrix(0.8929,0,0,1,218.50,303.35)" font-size="10.75" fill="#4D4D4D" text-anchor="middle">0</text>
<line x1="237.59" x2="237.59" y1="290.20" y2="293.50" stroke="#333333" stroke-width="1.15"/>
<text transform="matrix(0.8929,0,0,1,237.59,303.35)" font-size="10.75" fill="#4D4D4D" text-anchor="middle">10</text>
<line x1="256.68" x2="256.68" y1="290.20" y2="293.50" stroke="#333333" stroke-width="1.15"/>
<text transform="matrix(0.8929,0,0,1,256.68,303.35)" font-size="10.75" fill="#4D4D4D" text-anchor="middle">20</text>
<text transform="matrix(0.9009,0,0,1,177.20,15.60)" font-size="15.32" fill="#000" text-anchor="start">RMC</text>
<rect x="317.15" y="24.3" width="84.0" height="265.70" fill="#EBEBEB"/>
<line x1="317.15" x2="401.15" y1="248.41" y2="248.41" stroke="#fff" stroke-width="0.6"/>
<line x1="317.15" x2="401.15" y1="188.04" y2="188.04" stroke="#fff" stroke-width="0.6"/>
<line x1="317.15" x2="401.15" y1="127.66" y2="127.66" stroke="#fff" stroke-width="0.6"/>
<line x1="317.15" x2="401.15" y1="67.29" y2="67.29" stroke="#fff" stroke-width="0.6"/>
<line x1="330.51" x2="330.51" y1="24.3" y2="290.0" stroke="#fff" stroke-width="0.6"/>
<line x1="349.60" x2="349.60" y1="24.3" y2="290.0" stroke="#fff" stroke-width="0.6"/>
<line x1="368.70" x2="368.70" y1="24.3" y2="290.0" stroke="#fff" stroke-width="0.6"/>
<line x1="387.79" x2="387.79" y1="24.3" y2="290.0" stroke="#fff" stroke-width="0.6"/>
<line x1="317.15" x2="401.15" y1="278.60" y2="278.60" stroke="#fff" stroke-width="1.15"/>
<line x1="317.15" x2="401.15" y1="218.23" y2="218.23" stroke="#fff" stroke-width="1.15"/>
<line x1="317.15" x2="401.15" y1="157.85" y2="157.85" stroke="#fff" stroke-width="1.15"/>
<line x1="317.15" x2="401.15" y1="97.48" y2="97.48" stroke="#fff" stroke-width="1.15"/>
<line x1="317.15" x2="401.15" y1="37.10" y2="37.10" stroke="#fff" stroke-width="1.15"/>
<line x1="320.97" x2="320.97" y1="24.3" y2="290.0" stroke="#fff" stroke-width="1.15"/>
<line x1="340.06" x2="340.06" y1="24.3" y2="290.0" stroke="#fff" stroke-width="1.15"/>
<line x1="359.15" x2="359.15" y1="24.3" y2="290.0" stroke="#fff" stroke-width="1.15"/>
<line x1="378.24" x2="378.24" y1="24.3" y2="290.0" stroke="#fff" stroke-width="1.15"/>
<line x1="397.33" x2="397.33" y1="24.3" y2="290.0" stroke="#fff" stroke-width="1.15"/>
<path d="M320.97,278.54 L321.06,278.53 L321.16,278.53 L321.25,278.52 L321.35,278.52 L321.45,278.51 L321.54,278.50 L321.64,278.50 L321.73,278.49 L321.83,278.48 L321.92,278.48 L322.02,278.47 L322.11,278.46 L322.21,278.45 L322.30,278.44 L322.40,278.43 L322.50,278.42 L322.59,278.41 L322.69,278.39 L322.78,278.38 L322.88,278.37 L322.97,278.35 L323.07,278.34 L323.16,278.32 L323.26,278.30 L323.35,278.29 L323.45,278.27 L323.55,278.25 L323.64,278.23 L323.74,278.20 L323.83,278.18 L323.93,278.15 L324.02,278.13 L324.12,278.10 L324.21,278.07 L324.31,278.04 L324.40,278.00 L324.50,277.97 L324.60,277.93 L324.69,277.90 L324.79,277.85 L324.88,277.81 L324.98,277.77 L325.07,277.72 L325.17,277.67 L325.26,277.62 L325.36,277.57 L325.45,277.51 L325.55,277.45 L325.65,277.39 L325.74,277.32 L325.84,277.25 L325.93,277.18 L326.03,277.10 L326.12,277.02 L326.22,276.94 L326.31,276.85 L326.41,276.76 L326.50,276.66 L326.60,276.56 L326.70,276.46 L326.79,276.35 L326.89,276.24 L326.98,276.12 L327.08,275.99 L327.17,275.86 L327.27,275.72 L327.36,275.58 L327.46,275.43 L327.55,275.28 L327.65,275.12 L327.75,274.95 L327.84,274.78 L327.94,274.59 L328.03,274.40 L328.13,274.21 L328.22,274.00 L328.32,273.79 L328.41,273.57 L328.51,273.33 L328.60,273.09 L328.70,272.85 L328.80,272.59 L328.89,272.32 L328.99,272.04 L329.08,271.75 L329.18,271.45 L329.27,271.14 L329.37,270.81 L329.46,270.48 L329.56,270.13 L329.65,269.77 L329.75,269.40 L329.85,269.02 L329.94,268.62 L330.04,268.21 L330.13,267.78 L330.23,267.34 L330.32,266.89 L330.42,266.42 L330.51,265.93 L330.61,265.43 L330.70,264.91 L330.80,264.38 L330.90,263.83 L330.99,263.26 L331.09,262.68 L331.18,262.08 L331.28,261.46 L331.37,260.82 L331.47,260.17 L331.56,259.49 L331.66,258.80 L331.75,258.08 L331.85,257.35 L331.95,256.59 L332.04,255.82 L332.14,255.02 L332.23,254.21 L332.33,253.37 L332.42,252.51 L332.52,251.63 L332.61,250.73 L332.71,249.80 L332.80,248.85 L332.90,247.88 L333.00,246.89 L333.09,245.88 L333.19,244.84 L333.28,243.77 L333.38,242.69 L333.47,241.58 L333.57,240.45 L333.66,239.29 L333.76,238.11 L333.85,236.90 L333.95,235.67 L334.05,234.42 L334.14,233.15 L334.24,231.84 L334.33,230.52 L334.43,229.17 L334.52,227.80 L334.62,226.40 L334.71,224.99 L334.81,223.54 L334.90,222.08 L335.00,220.59 L335.10,219.08 L335.19,217.55 L335.29,215.99 L335.38,214.41 L335.48,212.81 L335.57,211.19 L335.67,209.55 L335.76,207.89 L335.86,206.21 L335.95,204.51 L336.05,202.79 L336.15,201.05 L336.24,199.30 L336.34,197.53 L336.43,195.74 L336.53,193.93 L336.62,192.11 L336.72,190.27 L336.81,188.42 L336.91,186.56 L337.00,184.68 L337.10,182.80 L337.20,180.90 L337.29,178.99 L337.39,177.07 L337.48,175.15 L337.58,173.22 L337.67,171.28 L337.77,169.33 L337.86,167.38 L337.96,165.43 L338.05,163.47 L338.15,161.52 L338.25,159.56 L338.34,157.60 L338.44,155.65 L338.53,153.70 L338.63,151.75 L338.72,149.81 L338.82,147.87 L338.91,145.94 L339.01,144.02 L339.10,142.11 L339.20,140.21 L339.30,138.33 L339.39,136.45 L339.49,134.59 L339.58,132.75 L339.68,130.93 L339.77,129.12 L339.87,127.33 L339.96,125.56 L340.06,123.82 L340.15,122.09 L340.25,120.40 L340.35,118.72 L340.44,117.08 L340.54,115.46 L340.63,113.87 L340.73,112.31 L340.82,110.78 L340.92,109.29 L341.01,107.82 L341.11,106.39 L341.20,105.00 L341.30,103.65 L341.40,102.33 L341.49,101.05 L341.59,99.81 L341.68,98.60 L341.78,97.45 L341.87,96.33 L341.97,95.25 L342.06,94.22 L342.16,93.24 L342.25,92.30 L342.35,91.40 L342.45,90.55 L342.54,89.75 L342.64,88.99 L342.73,88.29 L342.83,87.63 L342.92,87.02 L343.02,86.46 L343.11,85.96 L343.21,85.50 L343.30,85.09 L343.40,84.73 L343.50,84.43 L343.59,84.17 L343.69,83.97 L343.78,83.82 L343.88,83.71 L343.97,83.66 L344.07,83.67 L344.16,83.72 L344.26,83.82 L344.35,83.98 L344.45,84.18 L344.55,84.43 L344.64,84.74 L344.74,85.09 L344.83,85.50 L344.93,85.95 L345.02,86.45 L345.12,86.99 L345.21,87.59 L345.31,88.23 L345.40,88.91 L345.50,89.64 L345.60,90.41 L345.69,91.23 L345.79,92.09 L345.88,92.99 L345.98,93.93 L346.07,94.91 L346.17,95.93 L346.26,96.99 L346.36,98.09 L346.45,99.22 L346.55,100.38 L346.65,101.58 L346.74,102.81 L346.84,104.07 L346.93,105.37 L347.03,106.69 L347.12,108.04 L347.22,109.41 L347.31,110.81 L347.41,112.24 L347.50,113.68 L347.60,115.15 L347.70,116.64 L347.79,118.15 L347.89,119.68 L347.98,121.22 L348.08,122.77 L348.17,124.35 L348.27,125.93 L348.36,127.52 L348.46,129.13 L348.55,130.74 L348.65,132.36 L348.75,133.99 L348.84,135.62 L348.94,137.25 L349.03,138.89 L349.13,140.53 L349.22,142.17 L349.32,143.80 L349.41,145.43 L349.51,147.06 L349.60,148.69 L349.70,150.31 L349.80,151.92 L349.89,153.52 L349.99,155.12 L350.08,156.70 L350.18,158.27 L350.27,159.83 L350.37,161.38 L350.46,162.91 L350.56,164.42 L350.65,165.92 L350.75,167.40 L350.85,168.87 L350.94,170.31 L351.04,171.74 L351.13,173.14 L351.23,174.53 L351.32,175.89 L351.42,177.23 L351.51,178.55 L351.61,179.84 L351.70,181.11 L351.80,182.35 L351.90,183.57 L351.99,184.76 L352.09,185.93 L352.18,187.06 L352.28,188.18 L352.37,189.26 L352.47,190.31 L352.56,191.34 L352.66,192.34 L352.75,193.31 L352.85,194.25 L352.95,195.16 L353.04,196.04 L353.14,196.90 L353.23,197.72 L353.33,198.51 L353.42,199.27 L353.52,200.01 L353.61,200.71 L353.71,201.38 L353.80,202.03 L353.90,202.64 L354.00,203.23 L354.09,203.78 L354.19,204.31 L354.28,204.80 L354.38,205.27 L354.47,205.71 L354.57,206.12 L354.66,206.50 L354.76,206.86 L354.85,207.18 L354.95,207.48 L355.05,207.76 L355.14,208.00 L355.24,208.22 L355.33,208.41 L355.43,208.58 L355.52,208.72 L355.62,208.84 L355.71,208.93 L355.81,209.00 L355.90,209.05 L356.00,209.07 L356.10,209.07 L356.19,209.05 L356.29,209.00 L356.38,208.94 L356.48,208.85 L356.57,208.75 L356.67,208.62 L356.76,208.48 L356.86,208.32 L356.95,208.14 L357.05,207.94 L357.15,207.73 L357.24,207.50 L357.34,207.25 L357.43,206.99 L357.53,206.72 L357.62,206.43 L357.72,206.13 L357.81,205.81 L357.91,205.48 L358.00,205.14 L358.10,204.79 L358.20,204.43 L358.29,204.06 L358.39,203.68 L358.48,203.29 L358.58,202.90 L358.67,202.49 L358.77,202.08 L358.86,201.66 L358.96,201.24 L359.05,200.81 L359.15,200.37 L359.25,199.93 L359.34,199.49 L359.44,199.04 L359.53,198.59 L359.63,198.14 L359.72,197.69 L359.82,197.23 L359.91,196.78 L360.01,196.32 L360.10,195.87 L360.20,195.41 L360.30,194.96 L360.39,194.51 L360.49,194.06 L360.58,193.61 L360.68,193.17 L360.77,192.73 L360.87,192.29 L360.96,191.86 L361.06,191.44 L361.15,191.01 L361.25,190.60 L361.35,190.19 L361.44,189.78 L361.54,189.39 L361.63,189.00 L361.73,188.62 L361.82,188.24 L361.92,187.87 L362.01,187.52 L362.11,187.17 L362.20,186.83 L362.30,186.50 L362.40,186.18 L362.49,185.87 L362.59,185.57 L362.68,185.28 L362.78,185.00 L362.87,184.73 L362.97,184.47 L363.06,184.23 L363.16,184.00 L363.25,183.78 L363.35,183.57 L363.45,183.37 L363.54,183.19 L363.64,183.02 L363.73,182.86 L363.83,182.72 L363.92,182.58 L364.02,182.47 L364.11,182.36 L364.21,182.27 L364.30,182.19 L364.40,182.13 L364.50,182.08 L364.59,182.04 L364.69,182.02 L364.78,182.02 L364.88,182.02 L364.97,182.04 L365.07,182.08 L365.16,182.13 L365.26,182.19 L365.35,182.27 L365.45,182.37 L365.55,182.47 L365.64,182.59 L365.74,182.73 L365.83,182.88 L365.93,183.05 L366.02,183.22 L366.12,183.42 L366.21,183.62 L366.31,183.84 L366.40,184.08 L366.50,184.33 L366.60,184.59 L366.69,184.87 L366.79,185.16 L366.88,185.46 L366.98,185.77 L367.07,186.10 L367.17,186.45 L367.26,186.80 L367.36,187.17 L367.45,187.55 L367.55,187.94 L367.65,188.35 L367.74,188.76 L367.84,189.19 L367.93,189.63 L368.03,190.09 L368.12,190.55 L368.22,191.03 L368.31,191.51 L368.41,192.01 L368.50,192.52 L368.60,193.03 L368.70,193.56 L368.79,194.10 L368.89,194.64 L368.98,195.20 L369.08,195.77 L369.17,196.34 L369.27,196.93 L369.36,197.52 L369.46,198.12 L369.55,198.73 L369.65,199.34 L369.75,199.96 L369.84,200.60 L369.94,201.23 L370.03,201.88 L370.13,202.53 L370.22,203.19 L370.32,203.85 L370.41,204.52 L370.51,205.19 L370.60,205.87 L370.70,206.56 L370.80,207.25 L370.89,207.94 L370.99,208.64 L371.08,209.34 L371.18,210.04 L371.27,210.75 L371.37,211.46 L371.46,212.18 L371.56,212.90 L371.65,213.62 L371.75,214.34 L371.85,215.06 L371.94,215.79 L372.04,216.52 L372.13,217.24 L372.23,217.97 L372.32,218.70 L372.42,219.43 L372.51,220.16 L372.61,220.89 L372.70,221.62 L372.80,222.35 L372.90,223.08 L372.99,223.81 L373.09,224.54 L373.18,225.26 L373.28,225.99 L373.37,226.71 L373.47,227.43 L373.56,228.15 L373.66,228.87 L373.75,229.58 L373.85,230.29 L373.95,231.00 L374.04,231.70 L374.14,232.41 L374.23,233.10 L374.33,233.80 L374.42,234.49 L374.52,235.18 L374.61,235.86 L374.71,236.54 L374.80,237.21 L374.90,237.88 L375.00,238.55 L375.09,239.21 L375.19,239.87 L375.28,240.52 L375.38,241.16 L375.47,241.81 L375.57,242.44 L375.66,243.07 L375.76,243.70 L375.85,244.31 L375.95,244.93 L376.05,245.53 L376.14,246.14 L376.24,246.73 L376.33,247.32 L376.43,247.90 L376.52,248.48 L376.62,249.05 L376.71,249.62 L376.81,250.18 L376.90,250.73 L377.00,251.27 L377.10,251.81 L377.19,252.35 L377.29,252.87 L377.38,253.39 L377.48,253.90 L377.57,254.41 L377.67,254.91 L377.76,255.40 L377.86,255.89 L377.95,256.37 L378.05,256.84 L378.15,257.30 L378.24,257.76 L378.34,258.22 L378.43,258.66 L378.53,259.10 L378.62,259.53 L378.72,259.96 L378.81,260.38 L378.91,260.79 L379.00,261.20 L379.10,261.60 L379.20,261.99 L379.29,262.37 L379.39,262.75 L379.48,263.13 L379.58,263.49 L379.67,263.85 L379.77,264.21 L379.86,264.56 L379.96,264.90 L380.05,265.23 L380.15,265.56 L380.25,265.88 L380.34,266.20 L380.44,266.51 L380.53,266.82 L380.63,267.12 L380.72,267.41 L380.82,267.70 L380.91,267.98 L381.01,268.25 L381.10,268.52 L381.20,268.79 L381.30,269.05 L381.39,269.30 L381.49,269.55 L381.58,269.79 L381.68,270.03 L381.77,270.27 L381.87,270.49 L381.96,270.72 L382.06,270.93 L382.15,271.15 L382.25,271.36 L382.35,271.56 L382.44,271.76 L382.54,271.95 L382.63,272.14 L382.73,272.33 L382.82,272.51 L382.92,272.69 L383.01,272.86 L383.11,273.03 L383.20,273.19 L383.30,273.35 L383.40,273.51 L383.49,273.66 L383.59,273.81 L383.68,273.95 L383.78,274.10 L383.87,274.23 L383.97,274.37 L384.06,274.50 L384.16,274.62 L384.25,274.75 L384.35,274.87 L384.45,274.99 L384.54,275.10 L384.64,275.21 L384.73,275.32 L384.83,275.42 L384.92,275.53 L385.02,275.63 L385.11,275.72 L385.21,275.82 L385.30,275.91 L385.40,276.00 L385.50,276.08 L385.59,276.17 L385.69,276.25 L385.78,276.33 L385.88,276.40 L385.97,276.48 L386.07,276.55 L386.16,276.62 L386.26,276.69 L386.35,276.75 L386.45,276.82 L386.55,276.88 L386.64,276.94 L386.74,277.00 L386.83,277.05 L386.93,277.11 L387.02,277.16 L387.12,277.21 L387.21,277.26 L387.31,277.31 L387.40,277.36 L387.50,277.40 L387.60,277.45 L387.69,277.49 L387.79,277.53 L387.88,277.57 L387.98,277.61 L388.07,277.64 L388.17,277.68 L388.26,277.71 L388.36,277.75 L388.45,277.78 L388.55,277.81 L388.65,277.84 L388.74,277.87 L388.84,277.90 L388.93,277.93 L389.03,277.95 L389.12,277.98 L389.22,278.00 L389.31,278.02 L389.41,278.05 L389.50,278.07 L389.60,278.09 L389.70,278.11 L389.79,278.13 L389.89,278.15 L389.98,278.17 L390.08,278.18 L390.17,278.20 L390.27,278.22 L390.36,278.23 L390.46,278.25 L390.55,278.26 L390.65,278.28 L390.75,278.29 L390.84,278.30 L390.94,278.31 L391.03,278.33 L391.13,278.34 L391.22,278.35 L391.32,278.36 L391.41,278.37 L391.51,278.38 L391.60,278.39 L391.70,278.40 L391.80,278.41 L391.89,278.42 L391.99,278.42 L392.08,278.43 L392.18,278.44 L392.27,278.45 L392.37,278.45 L392.46,278.46 L392.56,278.46 L392.65,278.47 L392.75,278.48 L392.85,278.48 L392.94,278.49 L393.04,278.49 L393.13,278.50 L393.23,278.50 L393.32,278.51 L393.42,278.51 L393.51,278.51 L393.61,278.52 L393.70,278.52 L393.80,278.53 L393.90,278.53 L393.99,278.53 L394.09,278.54 L394.18,278.54 L394.28,278.54 L394.37,278.54 L394.47,278.55 L394.56,278.55 L394.66,278.55 L394.75,278.55 L394.85,278.56 L394.95,278.56 L395.04,278.56 L395.14,278.56 L395.23,278.56 L395.33,278.57 L395.42,278.57 L395.52,278.57 L395.61,278.57 L395.71,278.57 L395.80,278.57 L395.90,278.57 L396.00,278.58 L396.09,278.58 L396.19,278.58 L396.28,278.58 L396.38,278.58 L396.47,278.58 L396.57,278.58 L396.66,278.58 L396.76,278.58 L396.85,278.58 L396.95,278.59 L397.05,278.59 L397.14,278.59 L397.24,278.59 L397.33,278.59" fill="none" stroke="#0000FF" stroke-width="1.7" stroke-linejoin="round"/>
<path d="M320.97,278.54 L321.06,278.53 L321.16,278.53 L321.25,278.52 L321.35,278.52 L321.45,278.51 L321.54,278.50 L321.64,278.50 L321.73,278.49 L321.83,278.48 L321.92,278.48 L322.02,278.47 L322.11,278.46 L322.21,278.45 L322.30,278.44 L322.40,278.43 L322.50,278.42 L322.59,278.41 L322.69,278.39 L322.78,278.38 L322.88,278.37 L322.97,278.35 L323.07,278.34 L323.16,278.32 L323.26,278.30 L323.35,278.29 L323.45,278.27 L323.55,278.25 L323.64,278.23 L323.74,278.20 L323.83,278.18 L323.93,278.15 L324.02,278.13 L324.12,278.10 L324.21,278.07 L324.31,278.04 L324.40,278.00 L324.50,277.97 L324.60,277.93 L324.69,277.90 L324.79,277.85 L324.88,277.81 L324.98,277.77 L325.07,277.72 L325.17,277.67 L325.26,277.62 L325.36,277.57 L325.45,277.51 L325.55,277.45 L325.65,277.39 L325.74,277.32 L325.84,277.25 L325.93,277.18 L326.03,277.10 L326.12,277.02 L326.22,276.94 L326.31,276.85 L326.41,276.76 L326.50,276.66 L326.60,276.56 L326.70,276.46 L326.79,276.35 L326.89,276.24 L326.98,276.12 L327.08,275.99 L327.17,275.86 L327.27,275.72 L327.36,275.58 L327.46,275.43 L327.55,275.28 L327.65,275.12 L327.75,274.95 L327.84,274.78 L327.94,274.59 L328.03,274.40 L328.13,274.21 L328.22,274.00 L328.32,273.79 L328.41,273.57 L328.51,273.33 L328.60,273.09 L328.70,272.85 L328.80,272.59 L328.89,272.32 L328.99,272.04 L329.08,271.75 L329.18,271.45 L329.27,271.14 L329.37,270.81 L329.46,270.48 L329.56,270.13 L329.65,269.77 L329.75,269.40 L329.85,269.02 L329.94,268.62 L330.04,268.21 L330.13,267.78 L330.23,267.34 L330.32,266.89 L330.42,266.42 L330.51,265.93 L330.61,265.43 L330.70,264.92 L330.80,264.38 L330.90,263.83 L330.99,263.27 L331.09,262.69 L331.18,262.08 L331.28,261.47 L331.37,260.83 L331.47,260.17 L331.56,259.50 L331.66,258.80 L331.75,258.09 L331.85,257.36 L331.95,256.61 L332.04,255.83 L332.14,255.04 L332.23,254.22 L332.33,253.39 L332.42,252.53 L332.52,251.65 L332.61,250.75 L332.71,249.83 L332.80,248.88 L332.90,247.92 L333.00,246.93 L333.09,245.91 L333.19,244.88 L333.28,243.82 L333.38,242.74 L333.47,241.63 L333.57,240.51 L333.66,239.36 L333.76,238.18 L333.85,236.98 L333.95,235.76 L334.05,234.52 L334.14,233.25 L334.24,231.96 L334.33,230.64 L334.43,229.30 L334.52,227.94 L334.62,226.56 L334.71,225.15 L334.81,223.72 L334.90,222.27 L335.00,220.80 L335.10,219.31 L335.19,217.79 L335.29,216.26 L335.38,214.70 L335.48,213.12 L335.57,211.53 L335.67,209.91 L335.76,208.27 L335.86,206.62 L335.95,204.95 L336.05,203.26 L336.15,201.56 L336.24,199.84 L336.34,198.10 L336.43,196.35 L336.53,194.59 L336.62,192.81 L336.72,191.02 L336.81,189.22 L336.91,187.40 L337.00,185.58 L337.10,183.75 L337.20,181.91 L337.29,180.06 L337.39,178.20 L337.48,176.34 L337.58,174.48 L337.67,172.61 L337.77,170.74 L337.86,168.87 L337.96,166.99 L338.05,165.12 L338.15,163.25 L338.25,161.38 L338.34,159.52 L338.44,157.66 L338.53,155.80 L338.63,153.95 L338.72,152.11 L338.82,150.28 L338.91,148.47 L339.01,146.66 L339.10,144.86 L339.20,143.08 L339.30,141.31 L339.39,139.56 L339.49,137.82 L339.58,136.11 L339.68,134.41 L339.77,132.73 L339.87,131.08 L339.96,129.44 L340.06,127.83 L340.15,126.25 L340.25,124.69 L340.35,123.16 L340.44,121.65 L340.54,120.17 L340.63,118.72 L340.73,117.30 L340.82,115.92 L340.92,114.56 L341.01,113.24 L341.11,111.95 L341.20,110.69 L341.30,109.47 L341.40,108.29 L341.49,107.14 L341.59,106.03 L341.68,104.96 L341.78,103.93 L341.87,102.93 L341.97,101.98 L342.06,101.07 L342.16,100.19 L342.25,99.36 L342.35,98.57 L342.45,97.82 L342.54,97.11 L342.64,96.45 L342.73,95.83 L342.83,95.25 L342.92,94.72 L343.02,94.23 L343.11,93.79 L343.21,93.39 L343.30,93.03 L343.40,92.72 L343.50,92.45 L343.59,92.23 L343.69,92.05 L343.78,91.91 L343.88,91.82 L343.97,91.78 L344.07,91.78 L344.16,91.82 L344.26,91.90 L344.35,92.03 L344.45,92.21 L344.55,92.42 L344.64,92.68 L344.74,92.98 L344.83,93.33 L344.93,93.71 L345.02,94.14 L345.12,94.60 L345.21,95.11 L345.31,95.66 L345.40,96.24 L345.50,96.86 L345.60,97.52 L345.69,98.22 L345.79,98.95 L345.88,99.72 L345.98,100.52 L346.07,101.36 L346.17,102.23 L346.26,103.13 L346.36,104.06 L346.45,105.02 L346.55,106.01 L346.65,107.02 L346.74,108.07 L346.84,109.14 L346.93,110.23 L347.03,111.35 L347.12,112.49 L347.22,113.64 L347.31,114.82 L347.41,116.02 L347.50,117.23 L347.60,118.46 L347.70,119.71 L347.79,120.96 L347.89,122.23 L347.98,123.51 L348.08,124.80 L348.17,126.09 L348.27,127.39 L348.36,128.70 L348.46,130.01 L348.55,131.32 L348.65,132.63 L348.75,133.94 L348.84,135.25 L348.94,136.56 L349.03,137.86 L349.13,139.16 L349.22,140.45 L349.32,141.73 L349.41,143.01 L349.51,144.27 L349.60,145.53 L349.70,146.77 L349.80,148.00 L349.89,149.22 L349.99,150.42 L350.08,151.61 L350.18,152.78 L350.27,153.94 L350.37,155.08 L350.46,156.20 L350.56,157.31 L350.65,158.40 L350.75,159.47 L350.85,160.52 L350.94,161.56 L351.04,162.57 L351.13,163.57 L351.23,164.55 L351.32,165.52 L351.42,166.46 L351.51,167.39 L351.61,168.30 L351.70,169.19 L351.80,170.07 L351.90,170.93 L351.99,171.78 L352.09,172.61 L352.18,173.42 L352.28,174.22 L352.37,175.01 L352.47,175.78 L352.56,176.54 L352.66,177.29 L352.75,178.03 L352.85,178.75 L352.95,179.46 L353.04,180.17 L353.14,180.86 L353.23,181.54 L353.33,182.22 L353.42,182.88 L353.52,183.53 L353.61,184.18 L353.71,184.82 L353.80,185.44 L353.90,186.06 L354.00,186.68 L354.09,187.28 L354.19,187.87 L354.28,188.46 L354.38,189.04 L354.47,189.60 L354.57,190.16 L354.66,190.71 L354.76,191.25 L354.85,191.78 L354.95,192.30 L355.05,192.81 L355.14,193.31 L355.24,193.79 L355.33,194.26 L355.43,194.72 L355.52,195.17 L355.62,195.60 L355.71,196.02 L355.81,196.42 L355.90,196.81 L356.00,197.18 L356.10,197.54 L356.19,197.88 L356.29,198.20 L356.38,198.51 L356.48,198.79 L356.57,199.06 L356.67,199.32 L356.76,199.55 L356.86,199.76 L356.95,199.96 L357.05,200.14 L357.15,200.29 L357.24,200.43 L357.34,200.55 L357.43,200.66 L357.53,200.74 L357.62,200.80 L357.72,200.85 L357.81,200.88 L357.91,200.89 L358.00,200.88 L358.10,200.86 L358.20,200.82 L358.29,200.77 L358.39,200.70 L358.48,200.62 L358.58,200.52 L358.67,200.41 L358.77,200.29 L358.86,200.15 L358.96,200.01 L359.05,199.85 L359.15,199.69 L359.25,199.51 L359.34,199.33 L359.44,199.14 L359.53,198.95 L359.63,198.74 L359.72,198.54 L359.82,198.33 L359.91,198.12 L360.01,197.90 L360.10,197.68 L360.20,197.46 L360.30,197.24 L360.39,197.03 L360.49,196.81 L360.58,196.59 L360.68,196.38 L360.77,196.17 L360.87,195.96 L360.96,195.76 L361.06,195.57 L361.15,195.37 L361.25,195.19 L361.35,195.01 L361.44,194.83 L361.54,194.67 L361.63,194.51 L361.73,194.36 L361.82,194.21 L361.92,194.08 L362.01,193.95 L362.11,193.83 L362.20,193.72 L362.30,193.62 L362.40,193.53 L362.49,193.44 L362.59,193.37 L362.68,193.30 L362.78,193.25 L362.87,193.20 L362.97,193.16 L363.06,193.14 L363.16,193.12 L363.25,193.10 L363.35,193.10 L363.45,193.11 L363.54,193.12 L363.64,193.15 L363.73,193.18 L363.83,193.22 L363.92,193.26 L364.02,193.32 L364.11,193.38 L364.21,193.45 L364.30,193.52 L364.40,193.61 L364.50,193.70 L364.59,193.79 L364.69,193.89 L364.78,194.00 L364.88,194.11 L364.97,194.23 L365.07,194.35 L365.16,194.48 L365.26,194.61 L365.35,194.75 L365.45,194.90 L365.55,195.04 L365.64,195.20 L365.74,195.35 L365.83,195.51 L365.93,195.68 L366.02,195.85 L366.12,196.02 L366.21,196.20 L366.31,196.38 L366.40,196.57 L366.50,196.76 L366.60,196.96 L366.69,197.16 L366.79,197.36 L366.88,197.57 L366.98,197.78 L367.07,198.00 L367.17,198.22 L367.26,198.45 L367.36,198.68 L367.45,198.92 L367.55,199.16 L367.65,199.41 L367.74,199.66 L367.84,199.92 L367.93,200.19 L368.03,200.46 L368.12,200.74 L368.22,201.03 L368.31,201.32 L368.41,201.62 L368.50,201.92 L368.60,202.24 L368.70,202.56 L368.79,202.89 L368.89,203.22 L368.98,203.57 L369.08,203.92 L369.17,204.28 L369.27,204.65 L369.36,205.03 L369.46,205.41 L369.55,205.80 L369.65,206.21 L369.75,206.62 L369.84,207.04 L369.94,207.47 L370.03,207.91 L370.13,208.35 L370.22,208.81 L370.32,209.27 L370.41,209.75 L370.51,210.23 L370.60,210.72 L370.70,211.21 L370.80,211.72 L370.89,212.24 L370.99,212.76 L371.08,213.29 L371.18,213.83 L371.27,214.37 L371.37,214.93 L371.46,215.49 L371.56,216.06 L371.65,216.63 L371.75,217.21 L371.85,217.80 L371.94,218.39 L372.04,218.99 L372.13,219.60 L372.23,220.21 L372.32,220.82 L372.42,221.44 L372.51,222.07 L372.61,222.70 L372.70,223.33 L372.80,223.97 L372.90,224.61 L372.99,225.25 L373.09,225.89 L373.18,226.54 L373.28,227.19 L373.37,227.84 L373.47,228.49 L373.56,229.15 L373.66,229.80 L373.75,230.46 L373.85,231.11 L373.95,231.77 L374.04,232.42 L374.14,233.08 L374.23,233.73 L374.33,234.39 L374.42,235.04 L374.52,235.69 L374.61,236.34 L374.71,236.98 L374.80,237.63 L374.90,238.27 L375.00,238.90 L375.09,239.54 L375.19,240.17 L375.28,240.80 L375.38,241.43 L375.47,242.05 L375.57,242.66 L375.66,243.28 L375.76,243.88 L375.85,244.49 L375.95,245.09 L376.05,245.68 L376.14,246.27 L376.24,246.86 L376.33,247.44 L376.43,248.01 L376.52,248.58 L376.62,249.14 L376.71,249.70 L376.81,250.25 L376.90,250.80 L377.00,251.34 L377.10,251.87 L377.19,252.40 L377.29,252.92 L377.38,253.43 L377.48,253.94 L377.57,254.44 L377.67,254.94 L377.76,255.43 L377.86,255.91 L377.95,256.39 L378.05,256.86 L378.15,257.32 L378.24,257.78 L378.34,258.23 L378.43,258.68 L378.53,259.11 L378.62,259.55 L378.72,259.97 L378.81,260.39 L378.91,260.80 L379.00,261.20 L379.10,261.60 L379.20,261.99 L379.29,262.38 L379.39,262.76 L379.48,263.13 L379.58,263.50 L379.67,263.86 L379.77,264.21 L379.86,264.56 L379.96,264.90 L380.05,265.23 L380.15,265.56 L380.25,265.89 L380.34,266.20 L380.44,266.51 L380.53,266.82 L380.63,267.12 L380.72,267.41 L380.82,267.70 L380.91,267.98 L381.01,268.25 L381.10,268.52 L381.20,268.79 L381.30,269.05 L381.39,269.30 L381.49,269.55 L381.58,269.80 L381.68,270.03 L381.77,270.27 L381.87,270.49 L381.96,270.72 L382.06,270.94 L382.15,271.15 L382.25,271.36 L382.35,271.56 L382.44,271.76 L382.54,271.95 L382.63,272.14 L382.73,272.33 L382.82,272.51 L382.92,272.69 L383.01,272.86 L383.11,273.03 L383.20,273.19 L383.30,273.35 L383.40,273.51 L383.49,273.66 L383.59,273.81 L383.68,273.95 L383.78,274.10 L383.87,274.23 L383.97,274.37 L384.06,274.50 L384.16,274.62 L384.25,274.75 L384.35,274.87 L384.45,274.99 L384.54,275.10 L384.64,275.21 L384.73,275.32 L384.83,275.42 L384.92,275.53 L385.02,275.63 L385.11,275.72 L385.21,275.82 L385.30,275.91 L385.40,276.00 L385.50,276.08 L385.59,276.17 L385.69,276.25 L385.78,276.33 L385.88,276.40 L385.97,276.48 L386.07,276.55 L386.16,276.62 L386.26,276.69 L386.35,276.75 L386.45,276.82 L386.55,276.88 L386.64,276.94 L386.74,277.00 L386.83,277.05 L386.93,277.11 L387.02,277.16 L387.12,277.21 L387.21,277.26 L387.31,277.31 L387.40,277.36 L387.50,277.40 L387.60,277.45 L387.69,277.49 L387.79,277.53 L387.88,277.57 L387.98,277.61 L388.07,277.64 L388.17,277.68 L388.26,277.71 L388.36,277.75 L388.45,277.78 L388.55,277.81 L388.65,277.84 L388.74,277.87 L388.84,277.90 L388.93,277.93 L389.03,277.95 L389.12,277.98 L389.22,278.00 L389.31,278.02 L389.41,278.05 L389.50,278.07 L389.60,278.09 L389.70,278.11 L389.79,278.13 L389.89,278.15 L389.98,278.17 L390.08,278.18 L390.17,278.20 L390.27,278.22 L390.36,278.23 L390.46,278.25 L390.55,278.26 L390.65,278.28 L390.75,278.29 L390.84,278.30 L390.94,278.31 L391.03,278.33 L391.13,278.34 L391.22,278.35 L391.32,278.36 L391.41,278.37 L391.51,278.38 L391.60,278.39 L391.70,278.40 L391.80,278.41 L391.89,278.42 L391.99,278.42 L392.08,278.43 L392.18,278.44 L392.27,278.45 L392.37,278.45 L392.46,278.46 L392.56,278.46 L392.65,278.47 L392.75,278.48 L392.85,278.48 L392.94,278.49 L393.04,278.49 L393.13,278.50 L393.23,278.50 L393.32,278.51 L393.42,278.51 L393.51,278.51 L393.61,278.52 L393.70,278.52 L393.80,278.53 L393.90,278.53 L393.99,278.53 L394.09,278.54 L394.18,278.54 L394.28,278.54 L394.37,278.54 L394.47,278.55 L394.56,278.55 L394.66,278.55 L394.75,278.55 L394.85,278.56 L394.95,278.56 L395.04,278.56 L395.14,278.56 L395.23,278.56 L395.33,278.57 L395.42,278.57 L395.52,278.57 L395.61,278.57 L395.71,278.57 L395.80,278.57 L395.90,278.57 L396.00,278.58 L396.09,278.58 L396.19,278.58 L396.28,278.58 L396.38,278.58 L396.47,278.58 L396.57,278.58 L396.66,278.58 L396.76,278.58 L396.85,278.58 L396.95,278.59 L397.05,278.59 L397.14,278.59 L397.24,278.59 L397.33,278.59" fill="none" stroke="#FF0000" stroke-width="1.7" stroke-dasharray="3 1.9" stroke-linejoin="round"/>
<line x1="314.15" x2="317.15" y1="278.60" y2="278.60" stroke="#333333" stroke-width="1.15"/>
<text transform="matrix(0.8929,0,0,1,311.25,282.50)" font-size="10.75" fill="#4D4D4D" text-anchor="end">0.000</text>
<line x1="314.15" x2="317.15" y1="218.23" y2="218.23" stroke="#333333" stroke-width="1.15"/>
<text transform="matrix(0.8929,0,0,1,311.25,222.13)" font-size="10.75" fill="#4D4D4D" text-anchor="end">0.025</text>
<line x1="314.15" x2="317.15" y1="157.85" y2="157.85" stroke="#333333" stroke-width="1.15"/>
<text transform="matrix(0.8929,0,0,1,311.25,161.75)" font-size="10.75" fill="#4D4D4D" text-anchor="end">0.050</text>
<line x1="314.15" x2="317.15" y1="97.48" y2="97.48" stroke="#333333" stroke-width="1.15"/>
<text transform="matrix(0.8929,0,0,1,311.25,101.38)" font-size="10.75" fill="#4D4D4D" text-anchor="end">0.075</text>
<line x1="314.15" x2="317.15" y1="37.10" y2="37.10" stroke="#333333" stroke-width="1.15"/>
<text transform="matrix(0.8929,0,0,1,311.25,41.00)" font-size="10.75" fill="#4D4D4D" text-anchor="end">0.100</text>
<line x1="320.97" x2="320.97" y1="290.20" y2="293.50" stroke="#333333" stroke-width="1.15"/>
<text transform="matrix(0.8929,0,0,1,320.97,303.35)" font-size="10.75" fill="#4D4D4D" text-anchor="middle">−20</text>
<line x1="340.06" x2="340.06" y1="290.20" y2="293.50" stroke="#333333" stroke-width="1.15"/>
<text transform="matrix(0.8929,0,0,1,340.06,303.35)" font-size="10.75" fill="#4D4D4D" text-anchor="middle">−10</text>
<line x1="359.15" x2="359.15" y1="290.20" y2="293.50" stroke="#333333" stroke-width="1.15"/>
<text transform="matrix(0.8929,0,0,1,359.15,303.35)" font-size="10.75" fill="#4D4D4D" text-anchor="middle">0</text>
<line x1="378.24" x2="378.24" y1="290.20" y2="293.50" stroke="#333333" stroke-width="1.15"/>
<text transform="matrix(0.8929,0,0,1,378.24,303.35)" font-size="10.75" fill="#4D4D4D" text-anchor="middle">10</text>
<line x1="397.33" x2="397.33" y1="290.20" y2="293.50" stroke="#333333" stroke-width="1.15"/>
<text transform="matrix(0.8929,0,0,1,397.33,303.35)" font-size="10.75" fill="#4D4D4D" text-anchor="middle">20</text>
<text transform="matrix(0.9009,0,0,1,317.85,15.60)" font-size="15.32" fill="#000" text-anchor="start">QMC</text>
<rect x="457.80" y="24.3" width="84.0" height="265.70" fill="#EBEBEB"/>
<line x1="457.80" x2="541.80" y1="248.41" y2="248.41" stroke="#fff" stroke-width="0.6"/>
<line x1="457.80" x2="541.80" y1="188.04" y2="188.04" stroke="#fff" stroke-width="0.6"/>
<line x1="457.80" x2="541.80" y1="127.66" y2="127.66" stroke="#fff" stroke-width="0.6"/>
<line x1="457.80" x2="541.80" y1="67.29" y2="67.29" stroke="#fff" stroke-width="0.6"/>
<line x1="471.16" x2="471.16" y1="24.3" y2="290.0" stroke="#fff" stroke-width="0.6"/>
<line x1="490.25" x2="490.25" y1="24.3" y2="290.0" stroke="#fff" stroke-width="0.6"/>
<line x1="509.35" x2="509.35" y1="24.3" y2="290.0" stroke="#fff" stroke-width="0.6"/>
<line x1="528.44" x2="528.44" y1="24.3" y2="290.0" stroke="#fff" stroke-width="0.6"/>
<line x1="457.80" x2="541.80" y1="278.60" y2="278.60" stroke="#fff" stroke-width="1.15"/>
<line x1="457.80" x2="541.80" y1="218.23" y2="218.23" stroke="#fff" stroke-width="1.15"/>
<line x1="457.80" x2="541.80" y1="157.85" y2="157.85" stroke="#fff" stroke-width="1.15"/>
<line x1="457.80" x2="541.80" y1="97.48" y2="97.48" stroke="#fff" stroke-width="1.15"/>
<line x1="457.80" x2="541.80" y1="37.10" y2="37.10" stroke="#fff" stroke-width="1.15"/>
<line x1="461.62" x2="461.62" y1="24.3" y2="290.0" stroke="#fff" stroke-width="1.15"/>
<line x1="480.71" x2="480.71" y1="24.3" y2="290.0" stroke="#fff" stroke-width="1.15"/>
<line x1="499.80" x2="499.80" y1="24.3" y2="290.0" stroke="#fff" stroke-width="1.15"/>
<line x1="518.89" x2="518.89" y1="24.3" y2="290.0" stroke="#fff" stroke-width="1.15"/>
<line x1="537.98" x2="537.98" y1="24.3" y2="290.0" stroke="#fff" stroke-width="1.15"/>
<path d="M461.62,278.54 L461.71,278.53 L461.81,278.53 L461.90,278.52 L462.00,278.52 L462.10,278.51 L462.19,278.50 L462.29,278.50 L462.38,278.49 L462.48,278.48 L462.57,278.48 L462.67,278.47 L462.76,278.46 L462.86,278.45 L462.95,278.44 L463.05,278.43 L463.15,278.42 L463.24,278.41 L463.34,278.39 L463.43,278.38 L463.53,278.37 L463.62,278.35 L463.72,278.34 L463.81,278.32 L463.91,278.30 L464.00,278.29 L464.10,278.27 L464.20,278.25 L464.29,278.23 L464.39,278.20 L464.48,278.18 L464.58,278.15 L464.67,278.13 L464.77,278.10 L464.86,278.07 L464.96,278.04 L465.05,278.00 L465.15,277.97 L465.25,277.93 L465.34,277.90 L465.44,277.85 L465.53,277.81 L465.63,277.77 L465.72,277.72 L465.82,277.67 L465.91,277.62 L466.01,277.57 L466.10,277.51 L466.20,277.45 L466.30,277.39 L466.39,277.32 L466.49,277.25 L466.58,277.18 L466.68,277.10 L466.77,277.02 L466.87,276.94 L466.96,276.85 L467.06,276.76 L467.15,276.66 L467.25,276.56 L467.35,276.46 L467.44,276.35 L467.54,276.24 L467.63,276.12 L467.73,275.99 L467.82,275.86 L467.92,275.72 L468.01,275.58 L468.11,275.43 L468.20,275.28 L468.30,275.12 L468.40,274.95 L468.49,274.78 L468.59,274.59 L468.68,274.40 L468.78,274.21 L468.87,274.00 L468.97,273.79 L469.06,273.57 L469.16,273.33 L469.25,273.09 L469.35,272.85 L469.45,272.59 L469.54,272.32 L469.64,272.04 L469.73,271.75 L469.83,271.45 L469.92,271.14 L470.02,270.81 L470.11,270.48 L470.21,270.13 L470.30,269.77 L470.40,269.40 L470.50,269.02 L470.59,268.62 L470.69,268.21 L470.78,267.78 L470.88,267.34 L470.97,266.89 L471.07,266.42 L471.16,265.93 L471.26,265.43 L471.35,264.91 L471.45,264.38 L471.55,263.83 L471.64,263.26 L471.74,262.68 L471.83,262.08 L471.93,261.46 L472.02,260.82 L472.12,260.17 L472.21,259.49 L472.31,258.80 L472.40,258.08 L472.50,257.35 L472.60,256.59 L472.69,255.82 L472.79,255.02 L472.88,254.21 L472.98,253.37 L473.07,252.51 L473.17,251.63 L473.26,250.73 L473.36,249.80 L473.45,248.85 L473.55,247.88 L473.65,246.89 L473.74,245.88 L473.84,244.84 L473.93,243.77 L474.03,242.69 L474.12,241.58 L474.22,240.45 L474.31,239.29 L474.41,238.11 L474.50,236.90 L474.60,235.67 L474.70,234.42 L474.79,233.15 L474.89,231.84 L474.98,230.52 L475.08,229.17 L475.17,227.80 L475.27,226.40 L475.36,224.99 L475.46,223.54 L475.55,222.08 L475.65,220.59 L475.75,219.08 L475.84,217.55 L475.94,215.99 L476.03,214.41 L476.13,212.81 L476.22,211.19 L476.32,209.55 L476.41,207.89 L476.51,206.21 L476.60,204.51 L476.70,202.79 L476.80,201.05 L476.89,199.30 L476.99,197.53 L477.08,195.74 L477.18,193.93 L477.27,192.11 L477.37,190.27 L477.46,188.42 L477.56,186.56 L477.65,184.68 L477.75,182.80 L477.85,180.90 L477.94,178.99 L478.04,177.07 L478.13,175.15 L478.23,173.22 L478.32,171.28 L478.42,169.33 L478.51,167.38 L478.61,165.43 L478.70,163.47 L478.80,161.52 L478.90,159.56 L478.99,157.60 L479.09,155.65 L479.18,153.70 L479.28,151.75 L479.37,149.81 L479.47,147.87 L479.56,145.94 L479.66,144.02 L479.75,142.11 L479.85,140.21 L479.95,138.33 L480.04,136.45 L480.14,134.59 L480.23,132.75 L480.33,130.93 L480.42,129.12 L480.52,127.33 L480.61,125.56 L480.71,123.82 L480.80,122.09 L480.90,120.40 L481.00,118.72 L481.09,117.08 L481.19,115.46 L481.28,113.87 L481.38,112.31 L481.47,110.78 L481.57,109.29 L481.66,107.82 L481.76,106.39 L481.85,105.00 L481.95,103.65 L482.05,102.33 L482.14,101.05 L482.24,99.81 L482.33,98.60 L482.43,97.45 L482.52,96.33 L482.62,95.25 L482.71,94.22 L482.81,93.24 L482.90,92.30 L483.00,91.40 L483.10,90.55 L483.19,89.75 L483.29,88.99 L483.38,88.29 L483.48,87.63 L483.57,87.02 L483.67,86.46 L483.76,85.96 L483.86,85.50 L483.95,85.09 L484.05,84.73 L484.15,84.43 L484.24,84.17 L484.34,83.97 L484.43,83.82 L484.53,83.71 L484.62,83.66 L484.72,83.67 L484.81,83.72 L484.91,83.82 L485.00,83.98 L485.10,84.18 L485.20,84.43 L485.29,84.74 L485.39,85.09 L485.48,85.50 L485.58,85.95 L485.67,86.45 L485.77,86.99 L485.86,87.59 L485.96,88.23 L486.05,88.91 L486.15,89.64 L486.25,90.41 L486.34,91.23 L486.44,92.09 L486.53,92.99 L486.63,93.93 L486.72,94.91 L486.82,95.93 L486.91,96.99 L487.01,98.09 L487.10,99.22 L487.20,100.38 L487.30,101.58 L487.39,102.81 L487.49,104.07 L487.58,105.37 L487.68,106.69 L487.77,108.04 L487.87,109.41 L487.96,110.81 L488.06,112.24 L488.15,113.68 L488.25,115.15 L488.35,116.64 L488.44,118.15 L488.54,119.68 L488.63,121.22 L488.73,122.77 L488.82,124.35 L488.92,125.93 L489.01,127.52 L489.11,129.13 L489.20,130.74 L489.30,132.36 L489.40,133.99 L489.49,135.62 L489.59,137.25 L489.68,138.89 L489.78,140.53 L489.87,142.17 L489.97,143.80 L490.06,145.43 L490.16,147.06 L490.25,148.69 L490.35,150.31 L490.45,151.92 L490.54,153.52 L490.64,155.12 L490.73,156.70 L490.83,158.27 L490.92,159.83 L491.02,161.38 L491.11,162.91 L491.21,164.42 L491.30,165.92 L491.40,167.40 L491.50,168.87 L491.59,170.31 L491.69,171.74 L491.78,173.14 L491.88,174.53 L491.97,175.89 L492.07,177.23 L492.16,178.55 L492.26,179.84 L492.35,181.11 L492.45,182.35 L492.55,183.57 L492.64,184.76 L492.74,185.93 L492.83,187.06 L492.93,188.18 L493.02,189.26 L493.12,190.31 L493.21,191.34 L493.31,192.34 L493.40,193.31 L493.50,194.25 L493.60,195.16 L493.69,196.04 L493.79,196.90 L493.88,197.72 L493.98,198.51 L494.07,199.27 L494.17,200.01 L494.26,200.71 L494.36,201.38 L494.45,202.03 L494.55,202.64 L494.65,203.23 L494.74,203.78 L494.84,204.31 L494.93,204.80 L495.03,205.27 L495.12,205.71 L495.22,206.12 L495.31,206.50 L495.41,206.86 L495.50,207.18 L495.60,207.48 L495.70,207.76 L495.79,208.00 L495.89,208.22 L495.98,208.41 L496.08,208.58 L496.17,208.72 L496.27,208.84 L496.36,208.93 L496.46,209.00 L496.55,209.05 L496.65,209.07 L496.75,209.07 L496.84,209.05 L496.94,209.00 L497.03,208.94 L497.13,208.85 L497.22,208.75 L497.32,208.62 L497.41,208.48 L497.51,208.32 L497.60,208.14 L497.70,207.94 L497.80,207.73 L497.89,207.50 L497.99,207.25 L498.08,206.99 L498.18,206.72 L498.27,206.43 L498.37,206.13 L498.46,205.81 L498.56,205.48 L498.65,205.14 L498.75,204.79 L498.85,204.43 L498.94,204.06 L499.04,203.68 L499.13,203.29 L499.23,202.90 L499.32,202.49 L499.42,202.08 L499.51,201.66 L499.61,201.24 L499.70,200.81 L499.80,200.37 L499.90,199.93 L499.99,199.49 L500.09,199.04 L500.18,198.59 L500.28,198.14 L500.37,197.69 L500.47,197.23 L500.56,196.78 L500.66,196.32 L500.75,195.87 L500.85,195.41 L500.95,194.96 L501.04,194.51 L501.14,194.06 L501.23,193.61 L501.33,193.17 L501.42,192.73 L501.52,192.29 L501.61,191.86 L501.71,191.44 L501.80,191.01 L501.90,190.60 L502.00,190.19 L502.09,189.78 L502.19,189.39 L502.28,189.00 L502.38,188.62 L502.47,188.24 L502.57,187.87 L502.66,187.52 L502.76,187.17 L502.85,186.83 L502.95,186.50 L503.05,186.18 L503.14,185.87 L503.24,185.57 L503.33,185.28 L503.43,185.00 L503.52,184.73 L503.62,184.47 L503.71,184.23 L503.81,184.00 L503.90,183.78 L504.00,183.57 L504.10,183.37 L504.19,183.19 L504.29,183.02 L504.38,182.86 L504.48,182.72 L504.57,182.58 L504.67,182.47 L504.76,182.36 L504.86,182.27 L504.95,182.19 L505.05,182.13 L505.15,182.08 L505.24,182.04 L505.34,182.02 L505.43,182.02 L505.53,182.02 L505.62,182.04 L505.72,182.08 L505.81,182.13 L505.91,182.19 L506.00,182.27 L506.10,182.37 L506.20,182.47 L506.29,182.59 L506.39,182.73 L506.48,182.88 L506.58,183.05 L506.67,183.22 L506.77,183.42 L506.86,183.62 L506.96,183.84 L507.05,184.08 L507.15,184.33 L507.25,184.59 L507.34,184.87 L507.44,185.16 L507.53,185.46 L507.63,185.77 L507.72,186.10 L507.82,186.45 L507.91,186.80 L508.01,187.17 L508.10,187.55 L508.20,187.94 L508.30,188.35 L508.39,188.76 L508.49,189.19 L508.58,189.63 L508.68,190.09 L508.77,190.55 L508.87,191.03 L508.96,191.51 L509.06,192.01 L509.15,192.52 L509.25,193.03 L509.35,193.56 L509.44,194.10 L509.54,194.64 L509.63,195.20 L509.73,195.77 L509.82,196.34 L509.92,196.93 L510.01,197.52 L510.11,198.12 L510.20,198.73 L510.30,199.34 L510.40,199.96 L510.49,200.60 L510.59,201.23 L510.68,201.88 L510.78,202.53 L510.87,203.19 L510.97,203.85 L511.06,204.52 L511.16,205.19 L511.25,205.87 L511.35,206.56 L511.45,207.25 L511.54,207.94 L511.64,208.64 L511.73,209.34 L511.83,210.04 L511.92,210.75 L512.02,211.46 L512.11,212.18 L512.21,212.90 L512.30,213.62 L512.40,214.34 L512.50,215.06 L512.59,215.79 L512.69,216.52 L512.78,217.24 L512.88,217.97 L512.97,218.70 L513.07,219.43 L513.16,220.16 L513.26,220.89 L513.35,221.62 L513.45,222.35 L513.55,223.08 L513.64,223.81 L513.74,224.54 L513.83,225.26 L513.93,225.99 L514.02,226.71 L514.12,227.43 L514.21,228.15 L514.31,228.87 L514.40,229.58 L514.50,230.29 L514.60,231.00 L514.69,231.70 L514.79,232.41 L514.88,233.10 L514.98,233.80 L515.07,234.49 L515.17,235.18 L515.26,235.86 L515.36,236.54 L515.45,237.21 L515.55,237.88 L515.65,238.55 L515.74,239.21 L515.84,239.87 L515.93,240.52 L516.03,241.16 L516.12,241.81 L516.22,242.44 L516.31,243.07 L516.41,243.70 L516.50,244.31 L516.60,244.93 L516.70,245.53 L516.79,246.14 L516.89,246.73 L516.98,247.32 L517.08,247.90 L517.17,248.48 L517.27,249.05 L517.36,249.62 L517.46,250.18 L517.55,250.73 L517.65,251.27 L517.75,251.81 L517.84,252.35 L517.94,252.87 L518.03,253.39 L518.13,253.90 L518.22,254.41 L518.32,254.91 L518.41,255.40 L518.51,255.89 L518.60,256.37 L518.70,256.84 L518.80,257.30 L518.89,257.76 L518.99,258.22 L519.08,258.66 L519.18,259.10 L519.27,259.53 L519.37,259.96 L519.46,260.38 L519.56,260.79 L519.65,261.20 L519.75,261.60 L519.85,261.99 L519.94,262.37 L520.04,262.75 L520.13,263.13 L520.23,263.49 L520.32,263.85 L520.42,264.21 L520.51,264.56 L520.61,264.90 L520.70,265.23 L520.80,265.56 L520.90,265.88 L520.99,266.20 L521.09,266.51 L521.18,266.82 L521.28,267.12 L521.37,267.41 L521.47,267.70 L521.56,267.98 L521.66,268.25 L521.75,268.52 L521.85,268.79 L521.95,269.05 L522.04,269.30 L522.14,269.55 L522.23,269.79 L522.33,270.03 L522.42,270.27 L522.52,270.49 L522.61,270.72 L522.71,270.93 L522.80,271.15 L522.90,271.36 L523.00,271.56 L523.09,271.76 L523.19,271.95 L523.28,272.14 L523.38,272.33 L523.47,272.51 L523.57,272.69 L523.66,272.86 L523.76,273.03 L523.85,273.19 L523.95,273.35 L524.05,273.51 L524.14,273.66 L524.24,273.81 L524.33,273.95 L524.43,274.10 L524.52,274.23 L524.62,274.37 L524.71,274.50 L524.81,274.62 L524.90,274.75 L525.00,274.87 L525.10,274.99 L525.19,275.10 L525.29,275.21 L525.38,275.32 L525.48,275.42 L525.57,275.53 L525.67,275.63 L525.76,275.72 L525.86,275.82 L525.95,275.91 L526.05,276.00 L526.15,276.08 L526.24,276.17 L526.34,276.25 L526.43,276.33 L526.53,276.40 L526.62,276.48 L526.72,276.55 L526.81,276.62 L526.91,276.69 L527.00,276.75 L527.10,276.82 L527.20,276.88 L527.29,276.94 L527.39,277.00 L527.48,277.05 L527.58,277.11 L527.67,277.16 L527.77,277.21 L527.86,277.26 L527.96,277.31 L528.05,277.36 L528.15,277.40 L528.25,277.45 L528.34,277.49 L528.44,277.53 L528.53,277.57 L528.63,277.61 L528.72,277.64 L528.82,277.68 L528.91,277.71 L529.01,277.75 L529.10,277.78 L529.20,277.81 L529.30,277.84 L529.39,277.87 L529.49,277.90 L529.58,277.93 L529.68,277.95 L529.77,277.98 L529.87,278.00 L529.96,278.02 L530.06,278.05 L530.15,278.07 L530.25,278.09 L530.35,278.11 L530.44,278.13 L530.54,278.15 L530.63,278.17 L530.73,278.18 L530.82,278.20 L530.92,278.22 L531.01,278.23 L531.11,278.25 L531.20,278.26 L531.30,278.28 L531.40,278.29 L531.49,278.30 L531.59,278.31 L531.68,278.33 L531.78,278.34 L531.87,278.35 L531.97,278.36 L532.06,278.37 L532.16,278.38 L532.25,278.39 L532.35,278.40 L532.45,278.41 L532.54,278.42 L532.64,278.42 L532.73,278.43 L532.83,278.44 L532.92,278.45 L533.02,278.45 L533.11,278.46 L533.21,278.46 L533.30,278.47 L533.40,278.48 L533.50,278.48 L533.59,278.49 L533.69,278.49 L533.78,278.50 L533.88,278.50 L533.97,278.51 L534.07,278.51 L534.16,278.51 L534.26,278.52 L534.35,278.52 L534.45,278.53 L534.55,278.53 L534.64,278.53 L534.74,278.54 L534.83,278.54 L534.93,278.54 L535.02,278.54 L535.12,278.55 L535.21,278.55 L535.31,278.55 L535.40,278.55 L535.50,278.56 L535.60,278.56 L535.69,278.56 L535.79,278.56 L535.88,278.56 L535.98,278.57 L536.07,278.57 L536.17,278.57 L536.26,278.57 L536.36,278.57 L536.45,278.57 L536.55,278.57 L536.65,278.58 L536.74,278.58 L536.84,278.58 L536.93,278.58 L537.03,278.58 L537.12,278.58 L537.22,278.58 L537.31,278.58 L537.41,278.58 L537.50,278.58 L537.60,278.59 L537.70,278.59 L537.79,278.59 L537.89,278.59 L537.98,278.59" fill="none" stroke="#0000FF" stroke-width="1.7" stroke-linejoin="round"/>
<path d="M461.62,278.54 L461.71,278.53 L461.81,278.53 L461.90,278.52 L462.00,278.52 L462.10,278.51 L462.19,278.50 L462.29,278.50 L462.38,278.49 L462.48,278.48 L462.57,278.48 L462.67,278.47 L462.76,278.46 L462.86,278.45 L462.95,278.44 L463.05,278.43 L463.15,278.42 L463.24,278.41 L463.34,278.39 L463.43,278.38 L463.53,278.37 L463.62,278.35 L463.72,278.34 L463.81,278.32 L463.91,278.30 L464.00,278.29 L464.10,278.27 L464.20,278.25 L464.29,278.23 L464.39,278.20 L464.48,278.18 L464.58,278.15 L464.67,278.13 L464.77,278.10 L464.86,278.07 L464.96,278.04 L465.05,278.00 L465.15,277.97 L465.25,277.93 L465.34,277.90 L465.44,277.85 L465.53,277.81 L465.63,277.77 L465.72,277.72 L465.82,277.67 L465.91,277.62 L466.01,277.57 L466.10,277.51 L466.20,277.45 L466.30,277.39 L466.39,277.32 L466.49,277.25 L466.58,277.18 L466.68,277.10 L466.77,277.02 L466.87,276.94 L466.96,276.85 L467.06,276.76 L467.15,276.66 L467.25,276.56 L467.35,276.46 L467.44,276.35 L467.54,276.24 L467.63,276.12 L467.73,275.99 L467.82,275.86 L467.92,275.72 L468.01,275.58 L468.11,275.43 L468.20,275.28 L468.30,275.12 L468.40,274.95 L468.49,274.78 L468.59,274.59 L468.68,274.40 L468.78,274.21 L468.87,274.00 L468.97,273.79 L469.06,273.57 L469.16,273.33 L469.25,273.09 L469.35,272.85 L469.45,272.59 L469.54,272.32 L469.64,272.04 L469.73,271.75 L469.83,271.45 L469.92,271.14 L470.02,270.81 L470.11,270.48 L470.21,270.13 L470.30,269.77 L470.40,269.40 L470.50,269.02 L470.59,268.62 L470.69,268.21 L470.78,267.78 L470.88,267.34 L470.97,266.89 L471.07,266.42 L471.16,265.93 L471.26,265.43 L471.35,264.91 L471.45,264.38 L471.55,263.83 L471.64,263.26 L471.74,262.68 L471.83,262.08 L471.93,261.46 L472.02,260.82 L472.12,260.17 L472.21,259.49 L472.31,258.80 L472.40,258.08 L472.50,257.35 L472.60,256.59 L472.69,255.82 L472.79,255.02 L472.88,254.21 L472.98,253.37 L473.07,252.51 L473.17,251.63 L473.26,250.73 L473.36,249.80 L473.45,248.85 L473.55,247.88 L473.65,246.89 L473.74,245.87 L473.84,244.84 L473.93,243.77 L474.03,242.69 L474.12,241.58 L474.22,240.44 L474.31,239.29 L474.41,238.10 L474.50,236.90 L474.60,235.67 L474.70,234.42 L474.79,233.14 L474.89,231.84 L474.98,230.51 L475.08,229.16 L475.17,227.79 L475.27,226.39 L475.36,224.97 L475.46,223.53 L475.55,222.06 L475.65,220.57 L475.75,219.05 L475.84,217.52 L475.94,215.96 L476.03,214.38 L476.13,212.77 L476.22,211.15 L476.32,209.50 L476.41,207.83 L476.51,206.14 L476.60,204.44 L476.70,202.71 L476.80,200.96 L476.89,199.19 L476.99,197.41 L477.08,195.61 L477.18,193.79 L477.27,191.95 L477.37,190.10 L477.46,188.23 L477.56,186.35 L477.65,184.45 L477.75,182.54 L477.85,180.62 L477.94,178.68 L478.04,176.74 L478.13,174.78 L478.23,172.81 L478.32,170.84 L478.42,168.86 L478.51,166.87 L478.61,164.87 L478.70,162.87 L478.80,160.87 L478.90,158.86 L478.99,156.85 L479.09,154.84 L479.18,152.83 L479.28,150.82 L479.37,148.82 L479.47,146.81 L479.56,144.82 L479.66,142.83 L479.75,140.84 L479.85,138.87 L479.95,136.90 L480.04,134.95 L480.14,133.01 L480.23,131.08 L480.33,129.17 L480.42,127.28 L480.52,125.40 L480.61,123.55 L480.71,121.71 L480.80,119.90 L480.90,118.11 L481.00,116.35 L481.09,114.62 L481.19,112.91 L481.28,111.24 L481.38,109.59 L481.47,107.98 L481.57,106.41 L481.66,104.87 L481.76,103.36 L481.85,101.90 L481.95,100.48 L482.05,99.09 L482.14,97.75 L482.24,96.46 L482.33,95.21 L482.43,94.00 L482.52,92.85 L482.62,91.74 L482.71,90.68 L482.81,89.67 L482.90,88.71 L483.00,87.80 L483.10,86.94 L483.19,86.14 L483.29,85.39 L483.38,84.70 L483.48,84.06 L483.57,83.47 L483.67,82.95 L483.76,82.47 L483.86,82.05 L483.95,81.69 L484.05,81.38 L484.15,81.13 L484.24,80.93 L484.34,80.79 L484.43,80.71 L484.53,80.68 L484.62,80.70 L484.72,80.78 L484.81,80.91 L484.91,81.09 L485.00,81.33 L485.10,81.61 L485.20,81.95 L485.29,82.34 L485.39,82.78 L485.48,83.27 L485.58,83.80 L485.67,84.39 L485.77,85.02 L485.86,85.69 L485.96,86.41 L486.05,87.17 L486.15,87.98 L486.25,88.82 L486.34,89.71 L486.44,90.64 L486.53,91.60 L486.63,92.60 L486.72,93.64 L486.82,94.71 L486.91,95.82 L487.01,96.96 L487.10,98.13 L487.20,99.33 L487.30,100.56 L487.39,101.81 L487.49,103.10 L487.58,104.40 L487.68,105.73 L487.77,107.09 L487.87,108.46 L487.96,109.86 L488.06,111.27 L488.15,112.70 L488.25,114.15 L488.35,115.61 L488.44,117.08 L488.54,118.56 L488.63,120.06 L488.73,121.56 L488.82,123.07 L488.92,124.59 L489.01,126.11 L489.11,127.63 L489.20,129.16 L489.30,130.69 L489.40,132.21 L489.49,133.74 L489.59,135.26 L489.68,136.78 L489.78,138.29 L489.87,139.80 L489.97,141.29 L490.06,142.78 L490.16,144.26 L490.25,145.72 L490.35,147.18 L490.45,148.62 L490.54,150.05 L490.64,151.46 L490.73,152.86 L490.83,154.24 L490.92,155.60 L491.02,156.95 L491.11,158.27 L491.21,159.58 L491.30,160.87 L491.40,162.14 L491.50,163.39 L491.59,164.62 L491.69,165.82 L491.78,167.01 L491.88,168.18 L491.97,169.32 L492.07,170.44 L492.16,171.55 L492.26,172.63 L492.35,173.69 L492.45,174.73 L492.55,175.74 L492.64,176.74 L492.74,177.71 L492.83,178.67 L492.93,179.61 L493.02,180.52 L493.12,181.42 L493.21,182.29 L493.31,183.15 L493.40,183.99 L493.50,184.81 L493.60,185.61 L493.69,186.39 L493.79,187.16 L493.88,187.90 L493.98,188.63 L494.07,189.35 L494.17,190.04 L494.26,190.72 L494.36,191.38 L494.45,192.03 L494.55,192.66 L494.65,193.27 L494.74,193.87 L494.84,194.45 L494.93,195.01 L495.03,195.56 L495.12,196.09 L495.22,196.60 L495.31,197.10 L495.41,197.58 L495.50,198.04 L495.60,198.49 L495.70,198.92 L495.79,199.33 L495.89,199.72 L495.98,200.10 L496.08,200.46 L496.17,200.80 L496.27,201.12 L496.36,201.42 L496.46,201.70 L496.55,201.96 L496.65,202.21 L496.75,202.43 L496.84,202.64 L496.94,202.83 L497.03,202.99 L497.13,203.14 L497.22,203.27 L497.32,203.38 L497.41,203.46 L497.51,203.53 L497.60,203.58 L497.70,203.62 L497.80,203.63 L497.89,203.62 L497.99,203.60 L498.08,203.56 L498.18,203.50 L498.27,203.42 L498.37,203.32 L498.46,203.21 L498.56,203.09 L498.65,202.95 L498.75,202.79 L498.85,202.62 L498.94,202.44 L499.04,202.24 L499.13,202.03 L499.23,201.81 L499.32,201.58 L499.42,201.34 L499.51,201.09 L499.61,200.83 L499.70,200.56 L499.80,200.28 L499.90,200.00 L499.99,199.71 L500.09,199.42 L500.18,199.12 L500.28,198.82 L500.37,198.51 L500.47,198.20 L500.56,197.90 L500.66,197.59 L500.75,197.28 L500.85,196.97 L500.95,196.66 L501.04,196.35 L501.14,196.05 L501.23,195.75 L501.33,195.45 L501.42,195.16 L501.52,194.87 L501.61,194.59 L501.71,194.32 L501.80,194.05 L501.90,193.78 L502.00,193.53 L502.09,193.28 L502.19,193.04 L502.28,192.81 L502.38,192.58 L502.47,192.37 L502.57,192.16 L502.66,191.97 L502.76,191.78 L502.85,191.61 L502.95,191.44 L503.05,191.29 L503.14,191.14 L503.24,191.01 L503.33,190.89 L503.43,190.77 L503.52,190.67 L503.62,190.58 L503.71,190.50 L503.81,190.43 L503.90,190.37 L504.00,190.33 L504.10,190.29 L504.19,190.27 L504.29,190.25 L504.38,190.25 L504.48,190.25 L504.57,190.27 L504.67,190.29 L504.76,190.33 L504.86,190.38 L504.95,190.43 L505.05,190.50 L505.15,190.57 L505.24,190.66 L505.34,190.75 L505.43,190.85 L505.53,190.96 L505.62,191.08 L505.72,191.21 L505.81,191.35 L505.91,191.49 L506.00,191.64 L506.10,191.80 L506.20,191.97 L506.29,192.14 L506.39,192.33 L506.48,192.52 L506.58,192.71 L506.67,192.92 L506.77,193.13 L506.86,193.34 L506.96,193.57 L507.05,193.79 L507.15,194.03 L507.25,194.27 L507.34,194.52 L507.44,194.78 L507.53,195.04 L507.63,195.31 L507.72,195.58 L507.82,195.86 L507.91,196.15 L508.01,196.44 L508.10,196.74 L508.20,197.04 L508.30,197.35 L508.39,197.67 L508.49,198.00 L508.58,198.33 L508.68,198.66 L508.77,199.01 L508.87,199.35 L508.96,199.71 L509.06,200.07 L509.15,200.44 L509.25,200.82 L509.35,201.20 L509.44,201.59 L509.54,201.99 L509.63,202.39 L509.73,202.80 L509.82,203.22 L509.92,203.65 L510.01,204.08 L510.11,204.52 L510.20,204.96 L510.30,205.42 L510.40,205.88 L510.49,206.35 L510.59,206.82 L510.68,207.30 L510.78,207.79 L510.87,208.29 L510.97,208.80 L511.06,209.31 L511.16,209.82 L511.25,210.35 L511.35,210.88 L511.45,211.42 L511.54,211.96 L511.64,212.52 L511.73,213.07 L511.83,213.64 L511.92,214.21 L512.02,214.79 L512.11,215.37 L512.21,215.96 L512.30,216.55 L512.40,217.15 L512.50,217.75 L512.59,218.36 L512.69,218.97 L512.78,219.59 L512.88,220.21 L512.97,220.84 L513.07,221.47 L513.16,222.10 L513.26,222.74 L513.35,223.37 L513.45,224.02 L513.55,224.66 L513.64,225.31 L513.74,225.96 L513.83,226.61 L513.93,227.26 L514.02,227.91 L514.12,228.57 L514.21,229.22 L514.31,229.88 L514.40,230.53 L514.50,231.19 L514.60,231.84 L514.69,232.50 L514.79,233.15 L514.88,233.81 L514.98,234.46 L515.07,235.11 L515.17,235.76 L515.26,236.40 L515.36,237.05 L515.45,237.69 L515.55,238.33 L515.65,238.96 L515.74,239.60 L515.84,240.23 L515.93,240.85 L516.03,241.48 L516.12,242.09 L516.22,242.71 L516.31,243.32 L516.41,243.93 L516.50,244.53 L516.60,245.13 L516.70,245.72 L516.79,246.31 L516.89,246.89 L516.98,247.47 L517.08,248.04 L517.17,248.61 L517.27,249.17 L517.36,249.72 L517.46,250.27 L517.55,250.82 L517.65,251.36 L517.75,251.89 L517.84,252.41 L517.94,252.93 L518.03,253.45 L518.13,253.96 L518.22,254.46 L518.32,254.95 L518.41,255.44 L518.51,255.92 L518.60,256.40 L518.70,256.87 L518.80,257.33 L518.89,257.79 L518.99,258.24 L519.08,258.68 L519.18,259.12 L519.27,259.55 L519.37,259.97 L519.46,260.39 L519.56,260.80 L519.65,261.21 L519.75,261.61 L519.85,262.00 L519.94,262.38 L520.04,262.76 L520.13,263.13 L520.23,263.50 L520.32,263.86 L520.42,264.21 L520.51,264.56 L520.61,264.90 L520.70,265.24 L520.80,265.56 L520.90,265.89 L520.99,266.20 L521.09,266.51 L521.18,266.82 L521.28,267.12 L521.37,267.41 L521.47,267.70 L521.56,267.98 L521.66,268.26 L521.75,268.53 L521.85,268.79 L521.95,269.05 L522.04,269.30 L522.14,269.55 L522.23,269.80 L522.33,270.03 L522.42,270.27 L522.52,270.49 L522.61,270.72 L522.71,270.94 L522.80,271.15 L522.90,271.36 L523.00,271.56 L523.09,271.76 L523.19,271.95 L523.28,272.14 L523.38,272.33 L523.47,272.51 L523.57,272.69 L523.66,272.86 L523.76,273.03 L523.85,273.19 L523.95,273.35 L524.05,273.51 L524.14,273.66 L524.24,273.81 L524.33,273.95 L524.43,274.10 L524.52,274.23 L524.62,274.37 L524.71,274.50 L524.81,274.62 L524.90,274.75 L525.00,274.87 L525.10,274.99 L525.19,275.10 L525.29,275.21 L525.38,275.32 L525.48,275.42 L525.57,275.53 L525.67,275.63 L525.76,275.72 L525.86,275.82 L525.95,275.91 L526.05,276.00 L526.15,276.08 L526.24,276.17 L526.34,276.25 L526.43,276.33 L526.53,276.40 L526.62,276.48 L526.72,276.55 L526.81,276.62 L526.91,276.69 L527.00,276.75 L527.10,276.82 L527.20,276.88 L527.29,276.94 L527.39,277.00 L527.48,277.05 L527.58,277.11 L527.67,277.16 L527.77,277.21 L527.86,277.26 L527.96,277.31 L528.05,277.36 L528.15,277.40 L528.25,277.45 L528.34,277.49 L528.44,277.53 L528.53,277.57 L528.63,277.61 L528.72,277.64 L528.82,277.68 L528.91,277.71 L529.01,277.75 L529.10,277.78 L529.20,277.81 L529.30,277.84 L529.39,277.87 L529.49,277.90 L529.58,277.93 L529.68,277.95 L529.77,277.98 L529.87,278.00 L529.96,278.02 L530.06,278.05 L530.15,278.07 L530.25,278.09 L530.35,278.11 L530.44,278.13 L530.54,278.15 L530.63,278.17 L530.73,278.18 L530.82,278.20 L530.92,278.22 L531.01,278.23 L531.11,278.25 L531.20,278.26 L531.30,278.28 L531.40,278.29 L531.49,278.30 L531.59,278.31 L531.68,278.33 L531.78,278.34 L531.87,278.35 L531.97,278.36 L532.06,278.37 L532.16,278.38 L532.25,278.39 L532.35,278.40 L532.45,278.41 L532.54,278.42 L532.64,278.42 L532.73,278.43 L532.83,278.44 L532.92,278.45 L533.02,278.45 L533.11,278.46 L533.21,278.46 L533.30,278.47 L533.40,278.48 L533.50,278.48 L533.59,278.49 L533.69,278.49 L533.78,278.50 L533.88,278.50 L533.97,278.51 L534.07,278.51 L534.16,278.51 L534.26,278.52 L534.35,278.52 L534.45,278.53 L534.55,278.53 L534.64,278.53 L534.74,278.54 L534.83,278.54 L534.93,278.54 L535.02,278.54 L535.12,278.55 L535.21,278.55 L535.31,278.55 L535.40,278.55 L535.50,278.56 L535.60,278.56 L535.69,278.56 L535.79,278.56 L535.88,278.56 L535.98,278.57 L536.07,278.57 L536.17,278.57 L536.26,278.57 L536.36,278.57 L536.45,278.57 L536.55,278.57 L536.65,278.58 L536.74,278.58 L536.84,278.58 L536.93,278.58 L537.03,278.58 L537.12,278.58 L537.22,278.58 L537.31,278.58 L537.41,278.58 L537.50,278.58 L537.60,278.59 L537.70,278.59 L537.79,278.59 L537.89,278.59 L537.98,278.59" fill="none" stroke="#FF0000" stroke-width="1.7" stroke-dasharray="3 1.9" stroke-linejoin="round"/>
<line x1="454.80" x2="457.80" y1="278.60" y2="278.60" stroke="#333333" stroke-width="1.15"/>
<text transform="matrix(0.8929,0,0,1,451.90,282.50)" font-size="10.75" fill="#4D4D4D" text-anchor="end">0.000</text>
<line x1="454.80" x2="457.80" y1="218.23" y2="218.23" stroke="#333333" stroke-width="1.15"/>
<text transform="matrix(0.8929,0,0,1,451.90,222.13)" font-size="10.75" fill="#4D4D4D" text-anchor="end">0.025</text>
<line x1="454.80" x2="457.80" y1="157.85" y2="157.85" stroke="#333333" stroke-width="1.15"/>
<text transform="matrix(0.8929,0,0,1,451.90,161.75)" font-size="10.75" fill="#4D4D4D" text-anchor="end">0.050</text>
<line x1="454.80" x2="457.80" y1="97.48" y2="97.48" stroke="#333333" stroke-width="1.15"/>
<text transform="matrix(0.8929,0,0,1,451.90,101.38)" font-size="10.75" fill="#4D4D4D" text-anchor="end">0.075</text>
<line x1="454.80" x2="457.80" y1="37.10" y2="37.10" stroke="#333333" stroke-width="1.15"/>
<text transform="matrix(0.8929,0,0,1,451.90,41.00)" font-size="10.75" fill="#4D4D4D" text-anchor="end">0.100</text>
<line x1="461.62" x2="461.62" y1="290.20" y2="293.50" stroke="#333333" stroke-width="1.15"/>
<text transform="matrix(0.8929,0,0,1,461.62,303.35)" font-size="10.75" fill="#4D4D4D" text-anchor="middle">−20</text>
<line x1="480.71" x2="480.71" y1="290.20" y2="293.50" stroke="#333333" stroke-width="1.15"/>
<text transform="matrix(0.8929,0,0,1,480.71,303.35)" font-size="10.75" fill="#4D4D4D" text-anchor="middle">−10</text>
<line x1="499.80" x2="499.80" y1="290.20" y2="293.50" stroke="#333333" stroke-width="1.15"/>
<text transform="matrix(0.8929,0,0,1,499.80,303.35)" font-size="10.75" fill="#4D4D4D" text-anchor="middle">0</text>
<line x1="518.89" x2="518.89" y1="290.20" y2="293.50" stroke="#333333" stroke-width="1.15"/>
<text transform="matrix(0.8929,0,0,1,518.89,303.35)" font-size="10.75" fill="#4D4D4D" text-anchor="middle">10</text>
<line x1="537.98" x2="537.98" y1="290.20" y2="293.50" stroke="#333333" stroke-width="1.15"/>
<text transform="matrix(0.8929,0,0,1,537.98,303.35)" font-size="10.75" fill="#4D4D4D" text-anchor="middle">20</text>
<text transform="matrix(0.9009,0,0,1,458.50,15.60)" font-size="15.32" fill="#000" text-anchor="start">MSE</text>
<text x="160.3" y="345.6" font-size="12.2" fill="#000">Group</text>
<rect x="199.3" y="332" width="19" height="19" fill="#F2F2F2"/>
<line x1="201.2" x2="216.8" y1="341.5" y2="341.5" stroke="#0000FF" stroke-width="1.8"/>
<text transform="matrix(0.8929,0,0,1,224.70,345.00)" font-size="11.03" fill="#000" text-anchor="start">Density</text>
<rect x="264.6" y="332" width="19" height="19" fill="#F2F2F2"/>
<line x1="266.1" x2="282.4" y1="341.5" y2="341.5" stroke="#FF0000" stroke-width="1.8" stroke-dasharray="3 1.9"/>
<text transform="matrix(0.8929,0,0,1,290.10,345.00)" font-size="11.03" fill="#000" text-anchor="start">Estimated Density</text>
</g></svg></body></html>
